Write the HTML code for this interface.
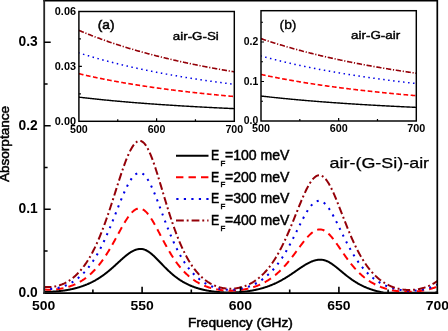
<!DOCTYPE html><html><head><meta charset="utf-8"><style>html,body{margin:0;padding:0;background:#fff;overflow:hidden}svg{display:block}text{font-family:"Liberation Sans",Arial,sans-serif;fill:#000}.r{stroke:#000;stroke-width:0.5px}.r2{stroke:#000;stroke-width:0.5px}.r3{stroke:#000;stroke-width:0.4px}.r5{stroke:#000;stroke-width:0.35px}.r4{stroke:#000;stroke-width:0.25px}.b{font-weight:bold}</style></head><body>
<svg width="448" height="331" viewBox="0 0 448 331">
<rect width="448" height="331" fill="#fff"/>
<defs><clipPath id="cm"><rect x="43.7" y="0" width="393.6" height="292.8"/></clipPath><clipPath id="ca"><rect x="78.9" y="11.5" width="155.4" height="109.8"/></clipPath><clipPath id="cb"><rect x="261.0" y="10.7" width="155.3" height="110.3"/></clipPath></defs>
<g clip-path="url(#cm)" fill="none" stroke-linejoin="round">
<path d="M43.70 291.77L44.19 291.78L44.68 291.79L45.18 291.79L45.67 291.79L46.16 291.79L46.65 291.79L47.14 291.79L47.64 291.78L48.13 291.78L48.62 291.77L49.11 291.76L49.60 291.74L50.10 291.73L50.59 291.71L51.08 291.69L51.57 291.67L52.06 291.65L52.56 291.63L53.05 291.60L53.54 291.58L54.03 291.55L54.52 291.52L55.02 291.48L55.51 291.45L56.00 291.41L56.49 291.37L56.98 291.33L57.48 291.29L57.97 291.24L58.46 291.20L58.95 291.15L59.44 291.10L59.94 291.05L60.43 290.99L60.92 290.94L61.41 290.88L61.90 290.82L62.40 290.75L62.89 290.69L63.38 290.62L63.87 290.55L64.36 290.48L64.86 290.41L65.35 290.33L65.84 290.26L66.33 290.18L66.82 290.09L67.32 290.01L67.81 289.92L68.30 289.83L68.79 289.74L69.28 289.65L69.78 289.55L70.27 289.45L70.76 289.35L71.25 289.25L71.74 289.14L72.24 289.03L72.73 288.92L73.22 288.81L73.71 288.69L74.20 288.57L74.70 288.45L75.19 288.33L75.68 288.20L76.17 288.07L76.66 287.93L77.16 287.80L77.65 287.66L78.14 287.52L78.63 287.37L79.12 287.22L79.62 287.07L80.11 286.91L80.60 286.76L81.09 286.60L81.58 286.43L82.08 286.26L82.57 286.09L83.06 285.92L83.55 285.74L84.04 285.56L84.54 285.37L85.03 285.18L85.52 284.99L86.01 284.79L86.50 284.59L87.00 284.39L87.49 284.18L87.98 283.97L88.47 283.75L88.96 283.53L89.46 283.31L89.95 283.08L90.44 282.85L90.93 282.61L91.42 282.37L91.92 282.13L92.41 281.88L92.90 281.62L93.39 281.36L93.88 281.10L94.38 280.83L94.87 280.56L95.36 280.29L95.85 280.00L96.34 279.72L96.84 279.43L97.33 279.13L97.82 278.83L98.31 278.53L98.80 278.22L99.30 277.91L99.79 277.59L100.28 277.26L100.77 276.93L101.26 276.60L101.76 276.26L102.25 275.92L102.74 275.57L103.23 275.22L103.72 274.86L104.22 274.50L104.71 274.13L105.20 273.76L105.69 273.38L106.18 273.00L106.68 272.61L107.17 272.22L107.66 271.83L108.15 271.43L108.64 271.03L109.14 270.62L109.63 270.21L110.12 269.79L110.61 269.37L111.10 268.95L111.60 268.52L112.09 268.09L112.58 267.66L113.07 267.22L113.56 266.79L114.06 266.35L114.55 265.90L115.04 265.46L115.53 265.01L116.02 264.56L116.52 264.11L117.01 263.66L117.50 263.21L117.99 262.76L118.48 262.30L118.98 261.85L119.47 261.40L119.96 260.95L120.45 260.50L120.94 260.06L121.44 259.61L121.93 259.17L122.42 258.73L122.91 258.30L123.40 257.87L123.90 257.44L124.39 257.02L124.88 256.60L125.37 256.19L125.86 255.79L126.36 255.39L126.85 255.00L127.34 254.62L127.83 254.24L128.32 253.88L128.82 253.52L129.31 253.18L129.80 252.84L130.29 252.52L130.78 252.20L131.28 251.90L131.77 251.61L132.26 251.34L132.75 251.07L133.24 250.83L133.74 250.59L134.23 250.37L134.72 250.16L135.21 249.97L135.70 249.79L136.20 249.63L136.69 249.49L137.18 249.36L137.67 249.25L138.16 249.16L138.66 249.08L139.15 249.02L139.64 248.97L140.13 248.95L140.62 248.94L141.12 248.95L141.61 248.98L142.10 249.04L142.59 249.11L143.08 249.21L143.58 249.33L144.07 249.47L144.56 249.64L145.05 249.82L145.54 250.03L146.04 250.25L146.53 250.49L147.02 250.76L147.51 251.04L148.00 251.34L148.50 251.65L148.99 251.98L149.48 252.33L149.97 252.69L150.46 253.07L150.96 253.46L151.45 253.87L151.94 254.28L152.43 254.71L152.92 255.15L153.42 255.59L153.91 256.05L154.40 256.52L154.89 256.99L155.38 257.47L155.88 257.95L156.37 258.45L156.86 258.94L157.35 259.44L157.84 259.95L158.34 260.46L158.83 260.97L159.32 261.48L159.81 261.99L160.30 262.51L160.80 263.02L161.29 263.53L161.78 264.05L162.27 264.56L162.76 265.07L163.26 265.57L163.75 266.08L164.24 266.58L164.73 267.08L165.22 267.58L165.72 268.07L166.21 268.56L166.70 269.04L167.19 269.52L167.68 270.00L168.18 270.47L168.67 270.93L169.16 271.39L169.65 271.84L170.14 272.29L170.64 272.73L171.13 273.17L171.62 273.60L172.11 274.03L172.60 274.44L173.10 274.86L173.59 275.26L174.08 275.66L174.57 276.06L175.06 276.44L175.56 276.83L176.05 277.20L176.54 277.57L177.03 277.93L177.52 278.29L178.02 278.64L178.51 278.98L179.00 279.32L179.49 279.65L179.98 279.98L180.48 280.30L180.97 280.61L181.46 280.92L181.95 281.22L182.44 281.52L182.94 281.81L183.43 282.10L183.92 282.38L184.41 282.65L184.90 282.92L185.40 283.18L185.89 283.44L186.38 283.69L186.87 283.94L187.36 284.18L187.86 284.42L188.35 284.65L188.84 284.88L189.33 285.10L189.82 285.32L190.32 285.54L190.81 285.75L191.30 285.95L191.79 286.15L192.28 286.35L192.78 286.54L193.27 286.73L193.76 286.91L194.25 287.09L194.74 287.26L195.24 287.43L195.73 287.60L196.22 287.77L196.71 287.93L197.20 288.08L197.70 288.23L198.19 288.38L198.68 288.53L199.17 288.67L199.66 288.81L200.16 288.95L200.65 289.08L201.14 289.21L201.63 289.33L202.12 289.45L202.62 289.57L203.11 289.69L203.60 289.80L204.09 289.92L204.58 290.02L205.08 290.13L205.57 290.23L206.06 290.33L206.55 290.43L207.04 290.52L207.54 290.61L208.03 290.70L208.52 290.79L209.01 290.87L209.50 290.95L210.00 291.03L210.49 291.11L210.98 291.18L211.47 291.25L211.96 291.32L212.46 291.39L212.95 291.46L213.44 291.52L213.93 291.58L214.42 291.64L214.92 291.69L215.41 291.75L215.90 291.80L216.39 291.85L216.88 291.90L217.38 291.95L217.87 291.99L218.36 292.03L218.85 292.07L219.34 292.11L219.84 292.14L220.33 292.18L220.82 292.21L221.31 292.24L221.80 292.27L222.30 292.30L222.79 292.32L223.28 292.34L223.77 292.37L224.26 292.38L224.76 292.40L225.25 292.42L225.74 292.43L226.23 292.44L226.72 292.45L227.22 292.46L227.71 292.47L228.20 292.47L228.69 292.48L229.18 292.48L229.68 292.48L230.17 292.48L230.66 292.47L231.15 292.47L231.64 292.46L232.14 292.45L232.63 292.44L233.12 292.43L233.61 292.41L234.10 292.40L234.60 292.38L235.09 292.36L235.58 292.34L236.07 292.32L236.56 292.29L237.06 292.27L237.55 292.24L238.04 292.21L238.53 292.18L239.02 292.14L239.52 292.11L240.01 292.07L240.50 292.03L240.99 291.99L241.48 291.95L241.98 291.90L242.47 291.85L242.96 291.81L243.45 291.76L243.94 291.70L244.44 291.65L244.93 291.59L245.42 291.53L245.91 291.47L246.40 291.41L246.90 291.35L247.39 291.28L247.88 291.21L248.37 291.14L248.86 291.07L249.36 290.99L249.85 290.92L250.34 290.84L250.83 290.76L251.32 290.67L251.82 290.59L252.31 290.50L252.80 290.41L253.29 290.32L253.78 290.22L254.28 290.13L254.77 290.03L255.26 289.92L255.75 289.82L256.24 289.71L256.74 289.60L257.23 289.49L257.72 289.38L258.21 289.26L258.70 289.14L259.20 289.02L259.69 288.89L260.18 288.77L260.67 288.63L261.16 288.50L261.66 288.37L262.15 288.23L262.64 288.09L263.13 287.94L263.62 287.79L264.12 287.64L264.61 287.49L265.10 287.33L265.59 287.17L266.08 287.01L266.58 286.84L267.07 286.68L267.56 286.50L268.05 286.33L268.54 286.15L269.04 285.97L269.53 285.78L270.02 285.60L270.51 285.40L271.00 285.21L271.50 285.01L271.99 284.81L272.48 284.60L272.97 284.39L273.46 284.18L273.96 283.97L274.45 283.75L274.94 283.52L275.43 283.30L275.92 283.07L276.42 282.84L276.91 282.60L277.40 282.36L277.89 282.11L278.38 281.87L278.88 281.61L279.37 281.36L279.86 281.10L280.35 280.84L280.84 280.57L281.34 280.30L281.83 280.03L282.32 279.75L282.81 279.47L283.30 279.19L283.80 278.90L284.29 278.62L284.78 278.32L285.27 278.03L285.76 277.73L286.26 277.42L286.75 277.12L287.24 276.81L287.73 276.50L288.22 276.18L288.72 275.87L289.21 275.55L289.70 275.23L290.19 274.90L290.68 274.57L291.18 274.25L291.67 273.92L292.16 273.58L292.65 273.25L293.14 272.91L293.64 272.58L294.13 272.24L294.62 271.90L295.11 271.56L295.60 271.22L296.10 270.88L296.59 270.54L297.08 270.20L297.57 269.86L298.06 269.52L298.56 269.18L299.05 268.84L299.54 268.51L300.03 268.17L300.52 267.84L301.02 267.51L301.51 267.18L302.00 266.86L302.49 266.54L302.98 266.22L303.48 265.90L303.97 265.59L304.46 265.29L304.95 264.99L305.44 264.69L305.94 264.40L306.43 264.12L306.92 263.84L307.41 263.57L307.90 263.30L308.40 263.04L308.89 262.79L309.38 262.55L309.87 262.31L310.36 262.08L310.86 261.87L311.35 261.66L311.84 261.46L312.33 261.27L312.82 261.08L313.32 260.91L313.81 260.75L314.30 260.60L314.79 260.46L315.28 260.34L315.78 260.22L316.27 260.11L316.76 260.02L317.25 259.93L317.74 259.86L318.24 259.80L318.73 259.76L319.22 259.72L319.71 259.70L320.20 259.69L320.70 259.69L321.19 259.71L321.68 259.74L322.17 259.80L322.66 259.87L323.16 259.95L323.65 260.06L324.14 260.18L324.63 260.31L325.12 260.46L325.62 260.63L326.11 260.81L326.60 261.01L327.09 261.22L327.58 261.45L328.08 261.69L328.57 261.94L329.06 262.20L329.55 262.48L330.04 262.77L330.54 263.07L331.03 263.38L331.52 263.70L332.01 264.03L332.50 264.37L333.00 264.72L333.49 265.07L333.98 265.44L334.47 265.81L334.96 266.18L335.46 266.56L335.95 266.95L336.44 267.34L336.93 267.73L337.42 268.13L337.92 268.53L338.41 268.94L338.90 269.34L339.39 269.75L339.88 270.16L340.38 270.57L340.87 270.98L341.36 271.39L341.85 271.80L342.34 272.21L342.84 272.61L343.33 273.02L343.82 273.43L344.31 273.83L344.80 274.23L345.30 274.63L345.79 275.02L346.28 275.41L346.77 275.80L347.26 276.19L347.76 276.57L348.25 276.94L348.74 277.32L349.23 277.69L349.72 278.05L350.22 278.42L350.71 278.77L351.20 279.12L351.69 279.47L352.18 279.82L352.68 280.15L353.17 280.49L353.66 280.82L354.15 281.14L354.64 281.46L355.14 281.77L355.63 282.08L356.12 282.39L356.61 282.69L357.10 282.98L357.60 283.27L358.09 283.55L358.58 283.83L359.07 284.11L359.56 284.38L360.06 284.64L360.55 284.90L361.04 285.16L361.53 285.41L362.02 285.65L362.52 285.89L363.01 286.13L363.50 286.36L363.99 286.59L364.48 286.81L364.98 287.03L365.47 287.24L365.96 287.45L366.45 287.66L366.94 287.86L367.44 288.06L367.93 288.25L368.42 288.44L368.91 288.63L369.40 288.81L369.90 288.99L370.39 289.16L370.88 289.33L371.37 289.50L371.86 289.66L372.36 289.82L372.85 289.97L373.34 290.12L373.83 290.27L374.32 290.42L374.82 290.56L375.31 290.70L375.80 290.84L376.29 290.97L376.78 291.10L377.28 291.23L377.77 291.35L378.26 291.47L378.75 291.59L379.24 291.70L379.74 291.81L380.23 291.92L380.72 292.03L381.21 292.14L381.70 292.24L382.20 292.34L382.69 292.43L383.18 292.53L383.67 292.62L384.16 292.71L384.66 292.79L385.15 292.80L385.64 292.80L386.13 292.80L386.62 292.80L387.12 292.80L387.61 292.80L388.10 292.80L388.59 292.80L389.08 292.80L389.58 292.80L390.07 292.80L390.56 292.80L391.05 292.80L391.54 292.80L392.04 292.80L392.53 292.80L393.02 292.80L393.51 292.80L394.00 292.80L394.50 292.80L394.99 292.80L395.48 292.80L395.97 292.80L396.46 292.80L396.96 292.80L397.45 292.80L397.94 292.80L398.43 292.80L398.92 292.80L399.42 292.80L399.91 292.80L400.40 292.80L400.89 292.80L401.38 292.80L401.88 292.80L402.37 292.80L402.86 292.80L403.35 292.80L403.84 292.80L404.34 292.80L404.83 292.80L405.32 292.80L405.81 292.80L406.30 292.80L406.80 292.80L407.29 292.80L407.78 292.80L408.27 292.80L408.76 292.80L409.26 292.80L409.75 292.80L410.24 292.80L410.73 292.80L411.22 292.80L411.72 292.80L412.21 292.80L412.70 292.80L413.19 292.80L413.68 292.80L414.18 292.80L414.67 292.80L415.16 292.80L415.65 292.80L416.14 292.80L416.64 292.80L417.13 292.80L417.62 292.80L418.11 292.80L418.60 292.80L419.10 292.80L419.59 292.80L420.08 292.80L420.57 292.80L421.06 292.80L421.56 292.80L422.05 292.80L422.54 292.80L423.03 292.80L423.52 292.80L424.02 292.80L424.51 292.80L425.00 292.80L425.49 292.80L425.98 292.80L426.48 292.80L426.97 292.80L427.46 292.80L427.95 292.80L428.44 292.80L428.94 292.80L429.43 292.80L429.92 292.80L430.41 292.80L430.90 292.80L431.40 292.80L431.89 292.80L432.38 292.80L432.87 292.80L433.36 292.80L433.86 292.80L434.35 292.74L434.84 292.66L435.33 292.58L435.82 292.49L436.32 292.40L436.81 292.31L437.30 292.22" stroke="#000" stroke-width="2.00" />
<path d="M43.70 289.45L44.19 289.49L44.68 289.53L45.18 289.56L45.67 289.59L46.16 289.62L46.65 289.64L47.14 289.66L47.64 289.67L48.13 289.68L48.62 289.69L49.11 289.69L49.60 289.69L50.10 289.69L50.59 289.68L51.08 289.67L51.57 289.66L52.06 289.64L52.56 289.62L53.05 289.59L53.54 289.56L54.03 289.53L54.52 289.49L55.02 289.45L55.51 289.41L56.00 289.36L56.49 289.31L56.98 289.26L57.48 289.20L57.97 289.13L58.46 289.07L58.95 289.00L59.44 288.92L59.94 288.84L60.43 288.76L60.92 288.68L61.41 288.59L61.90 288.49L62.40 288.39L62.89 288.29L63.38 288.18L63.87 288.07L64.36 287.96L64.86 287.84L65.35 287.72L65.84 287.59L66.33 287.46L66.82 287.32L67.32 287.18L67.81 287.03L68.30 286.88L68.79 286.73L69.28 286.57L69.78 286.40L70.27 286.23L70.76 286.06L71.25 285.88L71.74 285.69L72.24 285.50L72.73 285.31L73.22 285.11L73.71 284.90L74.20 284.69L74.70 284.48L75.19 284.26L75.68 284.03L76.17 283.79L76.66 283.56L77.16 283.31L77.65 283.06L78.14 282.80L78.63 282.54L79.12 282.27L79.62 281.99L80.11 281.71L80.60 281.42L81.09 281.13L81.58 280.83L82.08 280.52L82.57 280.20L83.06 279.88L83.55 279.55L84.04 279.21L84.54 278.87L85.03 278.51L85.52 278.16L86.01 277.79L86.50 277.41L87.00 277.03L87.49 276.64L87.98 276.24L88.47 275.83L88.96 275.42L89.46 274.99L89.95 274.56L90.44 274.12L90.93 273.67L91.42 273.21L91.92 272.74L92.41 272.26L92.90 271.78L93.39 271.28L93.88 270.77L94.38 270.26L94.87 269.74L95.36 269.20L95.85 268.66L96.34 268.10L96.84 267.54L97.33 266.97L97.82 266.38L98.31 265.79L98.80 265.18L99.30 264.57L99.79 263.94L100.28 263.31L100.77 262.66L101.26 262.01L101.76 261.34L102.25 260.66L102.74 259.98L103.23 259.28L103.72 258.57L104.22 257.85L104.71 257.13L105.20 256.39L105.69 255.64L106.18 254.88L106.68 254.11L107.17 253.33L107.66 252.55L108.15 251.75L108.64 250.95L109.14 250.13L109.63 249.31L110.12 248.48L110.61 247.64L111.10 246.79L111.60 245.94L112.09 245.08L112.58 244.21L113.07 243.33L113.56 242.45L114.06 241.57L114.55 240.68L115.04 239.78L115.53 238.89L116.02 237.99L116.52 237.08L117.01 236.18L117.50 235.27L117.99 234.37L118.48 233.46L118.98 232.56L119.47 231.66L119.96 230.76L120.45 229.86L120.94 228.97L121.44 228.08L121.93 227.20L122.42 226.33L122.91 225.47L123.40 224.62L123.90 223.77L124.39 222.94L124.88 222.12L125.37 221.32L125.86 220.53L126.36 219.75L126.85 219.00L127.34 218.26L127.83 217.54L128.32 216.84L128.82 216.16L129.31 215.50L129.80 214.87L130.29 214.26L130.78 213.68L131.28 213.12L131.77 212.59L132.26 212.09L132.75 211.62L133.24 211.18L133.74 210.77L134.23 210.39L134.72 210.04L135.21 209.73L135.70 209.45L136.20 209.20L136.69 208.99L137.18 208.81L137.67 208.67L138.16 208.56L138.66 208.49L139.15 208.46L139.64 208.46L140.13 208.50L140.62 208.57L141.12 208.69L141.61 208.85L142.10 209.04L142.59 209.27L143.08 209.53L143.58 209.84L144.07 210.18L144.56 210.55L145.05 210.96L145.54 211.40L146.04 211.88L146.53 212.38L147.02 212.92L147.51 213.49L148.00 214.09L148.50 214.71L148.99 215.36L149.48 216.04L149.97 216.74L150.46 217.46L150.96 218.21L151.45 218.97L151.94 219.76L152.43 220.56L152.92 221.38L153.42 222.22L153.91 223.07L154.40 223.93L154.89 224.81L155.38 225.70L155.88 226.60L156.37 227.50L156.86 228.42L157.35 229.34L157.84 230.26L158.34 231.19L158.83 232.13L159.32 233.07L159.81 234.00L160.30 234.94L160.80 235.88L161.29 236.82L161.78 237.76L162.27 238.69L162.76 239.62L163.26 240.55L163.75 241.47L164.24 242.39L164.73 243.30L165.22 244.21L165.72 245.11L166.21 246.00L166.70 246.89L167.19 247.76L167.68 248.63L168.18 249.49L168.67 250.34L169.16 251.18L169.65 252.01L170.14 252.84L170.64 253.65L171.13 254.45L171.62 255.24L172.11 256.02L172.60 256.79L173.10 257.55L173.59 258.30L174.08 259.04L174.57 259.76L175.06 260.48L175.56 261.18L176.05 261.87L176.54 262.56L177.03 263.23L177.52 263.89L178.02 264.53L178.51 265.17L179.00 265.80L179.49 266.41L179.98 267.02L180.48 267.61L180.97 268.19L181.46 268.77L181.95 269.33L182.44 269.88L182.94 270.42L183.43 270.95L183.92 271.47L184.41 271.98L184.90 272.49L185.40 272.98L185.89 273.46L186.38 273.93L186.87 274.39L187.36 274.85L187.86 275.29L188.35 275.73L188.84 276.15L189.33 276.57L189.82 276.98L190.32 277.38L190.81 277.77L191.30 278.15L191.79 278.53L192.28 278.90L192.78 279.26L193.27 279.61L193.76 279.95L194.25 280.29L194.74 280.62L195.24 280.94L195.73 281.26L196.22 281.56L196.71 281.87L197.20 282.16L197.70 282.45L198.19 282.73L198.68 283.00L199.17 283.27L199.66 283.53L200.16 283.79L200.65 284.04L201.14 284.28L201.63 284.52L202.12 284.75L202.62 284.98L203.11 285.20L203.60 285.41L204.09 285.62L204.58 285.83L205.08 286.03L205.57 286.22L206.06 286.41L206.55 286.59L207.04 286.77L207.54 286.95L208.03 287.12L208.52 287.28L209.01 287.44L209.50 287.60L210.00 287.75L210.49 287.89L210.98 288.04L211.47 288.17L211.96 288.31L212.46 288.44L212.95 288.56L213.44 288.68L213.93 288.80L214.42 288.91L214.92 289.02L215.41 289.13L215.90 289.23L216.39 289.33L216.88 289.42L217.38 289.51L217.87 289.60L218.36 289.68L218.85 289.76L219.34 289.83L219.84 289.91L220.33 289.97L220.82 290.04L221.31 290.10L221.80 290.16L222.30 290.21L222.79 290.27L223.28 290.31L223.77 290.36L224.26 290.40L224.76 290.44L225.25 290.47L225.74 290.51L226.23 290.53L226.72 290.56L227.22 290.58L227.71 290.60L228.20 290.62L228.69 290.63L229.18 290.64L229.68 290.65L230.17 290.65L230.66 290.65L231.15 290.65L231.64 290.64L232.14 290.63L232.63 290.62L233.12 290.61L233.61 290.59L234.10 290.57L234.60 290.54L235.09 290.51L235.58 290.48L236.07 290.45L236.56 290.41L237.06 290.37L237.55 290.33L238.04 290.28L238.53 290.23L239.02 290.18L239.52 290.12L240.01 290.07L240.50 290.00L240.99 289.94L241.48 289.87L241.98 289.80L242.47 289.72L242.96 289.64L243.45 289.56L243.94 289.48L244.44 289.39L244.93 289.29L245.42 289.20L245.91 289.10L246.40 289.00L246.90 288.89L247.39 288.78L247.88 288.67L248.37 288.55L248.86 288.43L249.36 288.30L249.85 288.17L250.34 288.04L250.83 287.91L251.32 287.77L251.82 287.62L252.31 287.47L252.80 287.32L253.29 287.17L253.78 287.01L254.28 286.84L254.77 286.67L255.26 286.50L255.75 286.32L256.24 286.14L256.74 285.96L257.23 285.77L257.72 285.57L258.21 285.37L258.70 285.17L259.20 284.96L259.69 284.74L260.18 284.52L260.67 284.30L261.16 284.07L261.66 283.84L262.15 283.60L262.64 283.36L263.13 283.11L263.62 282.85L264.12 282.59L264.61 282.33L265.10 282.06L265.59 281.78L266.08 281.50L266.58 281.21L267.07 280.91L267.56 280.61L268.05 280.31L268.54 280.00L269.04 279.68L269.53 279.35L270.02 279.02L270.51 278.69L271.00 278.34L271.50 277.99L271.99 277.64L272.48 277.28L272.97 276.91L273.46 276.53L273.96 276.15L274.45 275.76L274.94 275.36L275.43 274.96L275.92 274.54L276.42 274.13L276.91 273.70L277.40 273.27L277.89 272.83L278.38 272.38L278.88 271.93L279.37 271.47L279.86 271.00L280.35 270.52L280.84 270.04L281.34 269.55L281.83 269.05L282.32 268.54L282.81 268.03L283.30 267.51L283.80 266.98L284.29 266.45L284.78 265.91L285.27 265.36L285.76 264.80L286.26 264.24L286.75 263.67L287.24 263.09L287.73 262.51L288.22 261.92L288.72 261.32L289.21 260.72L289.70 260.11L290.19 259.49L290.68 258.87L291.18 258.25L291.67 257.62L292.16 256.98L292.65 256.34L293.14 255.70L293.64 255.05L294.13 254.40L294.62 253.74L295.11 253.08L295.60 252.42L296.10 251.76L296.59 251.09L297.08 250.42L297.57 249.76L298.06 249.09L298.56 248.42L299.05 247.75L299.54 247.09L300.03 246.43L300.52 245.77L301.02 245.11L301.51 244.45L302.00 243.80L302.49 243.16L302.98 242.52L303.48 241.89L303.97 241.26L304.46 240.65L304.95 240.04L305.44 239.44L305.94 238.85L306.43 238.28L306.92 237.71L307.41 237.16L307.90 236.62L308.40 236.09L308.89 235.58L309.38 235.09L309.87 234.61L310.36 234.15L310.86 233.70L311.35 233.28L311.84 232.87L312.33 232.48L312.82 232.12L313.32 231.77L313.81 231.45L314.30 231.15L314.79 230.87L315.28 230.62L315.78 230.39L316.27 230.18L316.76 230.00L317.25 229.84L317.74 229.71L318.24 229.61L318.73 229.53L319.22 229.47L319.71 229.44L320.20 229.44L320.70 229.47L321.19 229.52L321.68 229.61L322.17 229.73L322.66 229.87L323.16 230.05L323.65 230.25L324.14 230.48L324.63 230.74L325.12 231.03L325.62 231.35L326.11 231.69L326.60 232.05L327.09 232.44L327.58 232.85L328.08 233.29L328.57 233.75L329.06 234.23L329.55 234.73L330.04 235.25L330.54 235.79L331.03 236.35L331.52 236.92L332.01 237.51L332.50 238.11L333.00 238.73L333.49 239.36L333.98 240.00L334.47 240.66L334.96 241.32L335.46 242.00L335.95 242.68L336.44 243.37L336.93 244.06L337.42 244.76L337.92 245.47L338.41 246.18L338.90 246.89L339.39 247.60L339.88 248.32L340.38 249.04L340.87 249.75L341.36 250.47L341.85 251.19L342.34 251.90L342.84 252.62L343.33 253.33L343.82 254.04L344.31 254.74L344.80 255.44L345.30 256.13L345.79 256.82L346.28 257.51L346.77 258.19L347.26 258.86L347.76 259.53L348.25 260.19L348.74 260.84L349.23 261.49L349.72 262.13L350.22 262.76L350.71 263.39L351.20 264.01L351.69 264.61L352.18 265.22L352.68 265.81L353.17 266.39L353.66 266.97L354.15 267.54L354.64 268.10L355.14 268.65L355.63 269.19L356.12 269.73L356.61 270.25L357.10 270.77L357.60 271.28L358.09 271.78L358.58 272.27L359.07 272.76L359.56 273.23L360.06 273.70L360.55 274.16L361.04 274.61L361.53 275.06L362.02 275.49L362.52 275.92L363.01 276.34L363.50 276.75L363.99 277.15L364.48 277.55L364.98 277.94L365.47 278.32L365.96 278.69L366.45 279.06L366.94 279.42L367.44 279.77L367.93 280.11L368.42 280.45L368.91 280.78L369.40 281.11L369.90 281.42L370.39 281.74L370.88 282.04L371.37 282.34L371.86 282.63L372.36 282.92L372.85 283.20L373.34 283.47L373.83 283.74L374.32 284.00L374.82 284.26L375.31 284.51L375.80 284.75L376.29 284.99L376.78 285.23L377.28 285.46L377.77 285.68L378.26 285.90L378.75 286.11L379.24 286.32L379.74 286.52L380.23 286.72L380.72 286.92L381.21 287.10L381.70 287.29L382.20 287.47L382.69 287.64L383.18 287.82L383.67 287.98L384.16 288.15L384.66 288.30L385.15 288.46L385.64 288.61L386.13 288.75L386.62 288.90L387.12 289.03L387.61 289.17L388.10 289.30L388.59 289.42L389.08 289.55L389.58 289.67L390.07 289.78L390.56 289.89L391.05 290.00L391.54 290.11L392.04 290.21L392.53 290.30L393.02 290.40L393.51 290.49L394.00 290.58L394.50 290.66L394.99 290.74L395.48 290.82L395.97 290.90L396.46 290.97L396.96 291.04L397.45 291.10L397.94 291.16L398.43 291.22L398.92 291.28L399.42 291.33L399.91 291.38L400.40 291.43L400.89 291.47L401.38 291.51L401.88 291.55L402.37 291.59L402.86 291.62L403.35 291.65L403.84 291.68L404.34 291.70L404.83 291.72L405.32 291.74L405.81 291.76L406.30 291.77L406.80 291.78L407.29 291.79L407.78 291.79L408.27 291.80L408.76 291.80L409.26 291.79L409.75 291.79L410.24 291.78L410.73 291.76L411.22 291.75L411.72 291.73L412.21 291.71L412.70 291.69L413.19 291.66L413.68 291.64L414.18 291.60L414.67 291.57L415.16 291.53L415.65 291.49L416.14 291.45L416.64 291.41L417.13 291.36L417.62 291.31L418.11 291.25L418.60 291.20L419.10 291.14L419.59 291.07L420.08 291.01L420.57 290.94L421.06 290.87L421.56 290.79L422.05 290.71L422.54 290.63L423.03 290.55L423.52 290.46L424.02 290.37L424.51 290.28L425.00 290.18L425.49 290.08L425.98 289.98L426.48 289.87L426.97 289.76L427.46 289.65L427.95 289.53L428.44 289.41L428.94 289.28L429.43 289.16L429.92 289.03L430.41 288.89L430.90 288.75L431.40 288.61L431.89 288.47L432.38 288.32L432.87 288.16L433.36 288.00L433.86 287.84L434.35 287.68L434.84 287.51L435.33 287.33L435.82 287.16L436.32 286.97L436.81 286.79L437.30 286.60" stroke="#ff0000" stroke-width="2.00" stroke-dasharray="7.4 5.1"/>
<path d="M43.70 288.75L44.19 288.80L44.68 288.84L45.18 288.88L45.67 288.91L46.16 288.93L46.65 288.96L47.14 288.97L47.64 288.98L48.13 288.99L48.62 288.98L49.11 288.98L49.60 288.97L50.10 288.95L50.59 288.93L51.08 288.90L51.57 288.87L52.06 288.83L52.56 288.78L53.05 288.74L53.54 288.68L54.03 288.62L54.52 288.56L55.02 288.49L55.51 288.41L56.00 288.33L56.49 288.24L56.98 288.15L57.48 288.05L57.97 287.94L58.46 287.83L58.95 287.72L59.44 287.60L59.94 287.47L60.43 287.34L60.92 287.20L61.41 287.05L61.90 286.90L62.40 286.75L62.89 286.58L63.38 286.42L63.87 286.24L64.36 286.06L64.86 285.87L65.35 285.68L65.84 285.48L66.33 285.27L66.82 285.05L67.32 284.83L67.81 284.61L68.30 284.37L68.79 284.13L69.28 283.88L69.78 283.62L70.27 283.36L70.76 283.09L71.25 282.81L71.74 282.53L72.24 282.23L72.73 281.93L73.22 281.62L73.71 281.31L74.20 280.98L74.70 280.65L75.19 280.31L75.68 279.96L76.17 279.60L76.66 279.23L77.16 278.86L77.65 278.47L78.14 278.08L78.63 277.67L79.12 277.26L79.62 276.84L80.11 276.41L80.60 275.96L81.09 275.51L81.58 275.05L82.08 274.58L82.57 274.10L83.06 273.61L83.55 273.10L84.04 272.59L84.54 272.06L85.03 271.53L85.52 270.98L86.01 270.42L86.50 269.85L87.00 269.27L87.49 268.68L87.98 268.07L88.47 267.46L88.96 266.83L89.46 266.19L89.95 265.53L90.44 264.87L90.93 264.19L91.42 263.49L91.92 262.79L92.41 262.07L92.90 261.34L93.39 260.60L93.88 259.84L94.38 259.07L94.87 258.28L95.36 257.48L95.85 256.67L96.34 255.85L96.84 255.01L97.33 254.15L97.82 253.28L98.31 252.40L98.80 251.51L99.30 250.60L99.79 249.67L100.28 248.74L100.77 247.78L101.26 246.82L101.76 245.84L102.25 244.85L102.74 243.84L103.23 242.82L103.72 241.79L104.22 240.74L104.71 239.68L105.20 238.61L105.69 237.52L106.18 236.43L106.68 235.32L107.17 234.20L107.66 233.07L108.15 231.92L108.64 230.77L109.14 229.60L109.63 228.43L110.12 227.24L110.61 226.05L111.10 224.85L111.60 223.64L112.09 222.43L112.58 221.20L113.07 219.97L113.56 218.74L114.06 217.50L114.55 216.26L115.04 215.01L115.53 213.76L116.02 212.52L116.52 211.27L117.01 210.02L117.50 208.77L117.99 207.52L118.48 206.28L118.98 205.04L119.47 203.81L119.96 202.59L120.45 201.37L120.94 200.16L121.44 198.96L121.93 197.77L122.42 196.60L122.91 195.44L123.40 194.29L123.90 193.16L124.39 192.05L124.88 190.96L125.37 189.88L125.86 188.83L126.36 187.80L126.85 186.80L127.34 185.82L127.83 184.87L128.32 183.94L128.82 183.04L129.31 182.18L129.80 181.34L130.29 180.54L130.78 179.77L131.28 179.04L131.77 178.34L132.26 177.68L132.75 177.06L133.24 176.47L133.74 175.93L134.23 175.43L134.72 174.97L135.21 174.55L135.70 174.17L136.20 173.83L136.69 173.55L137.18 173.30L137.67 173.10L138.16 172.94L138.66 172.83L139.15 172.77L139.64 172.75L140.13 172.78L140.62 172.86L141.12 172.99L141.61 173.18L142.10 173.41L142.59 173.70L143.08 174.03L143.58 174.41L144.07 174.85L144.56 175.33L145.05 175.85L145.54 176.42L146.04 177.04L146.53 177.70L147.02 178.41L147.51 179.15L148.00 179.94L148.50 180.76L148.99 181.62L149.48 182.52L149.97 183.45L150.46 184.42L150.96 185.42L151.45 186.44L151.94 187.50L152.43 188.59L152.92 189.70L153.42 190.83L153.91 191.99L154.40 193.16L154.89 194.36L155.38 195.58L155.88 196.81L156.37 198.06L156.86 199.32L157.35 200.59L157.84 201.87L158.34 203.16L158.83 204.47L159.32 205.77L159.81 207.08L160.30 208.40L160.80 209.72L161.29 211.04L161.78 212.36L162.27 213.68L162.76 215.00L163.26 216.32L163.75 217.63L164.24 218.94L164.73 220.24L165.22 221.54L165.72 222.83L166.21 224.11L166.70 225.38L167.19 226.64L167.68 227.90L168.18 229.14L168.67 230.37L169.16 231.59L169.65 232.80L170.14 233.99L170.64 235.18L171.13 236.35L171.62 237.50L172.11 238.64L172.60 239.77L173.10 240.88L173.59 241.98L174.08 243.07L174.57 244.13L175.06 245.19L175.56 246.23L176.05 247.25L176.54 248.25L177.03 249.25L177.52 250.22L178.02 251.18L178.51 252.12L179.00 253.05L179.49 253.97L179.98 254.86L180.48 255.75L180.97 256.61L181.46 257.46L181.95 258.30L182.44 259.12L182.94 259.92L183.43 260.71L183.92 261.49L184.41 262.25L184.90 263.00L185.40 263.73L185.89 264.45L186.38 265.15L186.87 265.84L187.36 266.51L187.86 267.18L188.35 267.82L188.84 268.46L189.33 269.08L189.82 269.69L190.32 270.29L190.81 270.87L191.30 271.44L191.79 272.00L192.28 272.55L192.78 273.08L193.27 273.60L193.76 274.12L194.25 274.62L194.74 275.11L195.24 275.58L195.73 276.05L196.22 276.51L196.71 276.95L197.20 277.39L197.70 277.82L198.19 278.23L198.68 278.64L199.17 279.03L199.66 279.42L200.16 279.80L200.65 280.17L201.14 280.52L201.63 280.88L202.12 281.22L202.62 281.55L203.11 281.87L203.60 282.19L204.09 282.50L204.58 282.80L205.08 283.09L205.57 283.37L206.06 283.65L206.55 283.92L207.04 284.18L207.54 284.44L208.03 284.68L208.52 284.92L209.01 285.16L209.50 285.38L210.00 285.60L210.49 285.82L210.98 286.02L211.47 286.22L211.96 286.42L212.46 286.60L212.95 286.78L213.44 286.96L213.93 287.13L214.42 287.29L214.92 287.45L215.41 287.60L215.90 287.75L216.39 287.89L216.88 288.02L217.38 288.15L217.87 288.28L218.36 288.39L218.85 288.51L219.34 288.62L219.84 288.72L220.33 288.82L220.82 288.91L221.31 289.00L221.80 289.08L222.30 289.16L222.79 289.23L223.28 289.30L223.77 289.36L224.26 289.42L224.76 289.48L225.25 289.53L225.74 289.57L226.23 289.61L226.72 289.65L227.22 289.68L227.71 289.70L228.20 289.72L228.69 289.74L229.18 289.75L229.68 289.76L230.17 289.77L230.66 289.77L231.15 289.76L231.64 289.75L232.14 289.74L232.63 289.72L233.12 289.70L233.61 289.67L234.10 289.64L234.60 289.60L235.09 289.56L235.58 289.52L236.07 289.47L236.56 289.41L237.06 289.36L237.55 289.29L238.04 289.23L238.53 289.15L239.02 289.08L239.52 289.00L240.01 288.91L240.50 288.82L240.99 288.73L241.48 288.63L241.98 288.52L242.47 288.42L242.96 288.30L243.45 288.18L243.94 288.06L244.44 287.93L244.93 287.80L245.42 287.66L245.91 287.52L246.40 287.37L246.90 287.22L247.39 287.06L247.88 286.90L248.37 286.73L248.86 286.56L249.36 286.38L249.85 286.19L250.34 286.00L250.83 285.81L251.32 285.61L251.82 285.40L252.31 285.19L252.80 284.97L253.29 284.74L253.78 284.51L254.28 284.28L254.77 284.03L255.26 283.79L255.75 283.53L256.24 283.27L256.74 283.00L257.23 282.73L257.72 282.44L258.21 282.16L258.70 281.86L259.20 281.56L259.69 281.25L260.18 280.93L260.67 280.61L261.16 280.28L261.66 279.94L262.15 279.59L262.64 279.24L263.13 278.88L263.62 278.51L264.12 278.13L264.61 277.75L265.10 277.35L265.59 276.95L266.08 276.54L266.58 276.12L267.07 275.69L267.56 275.26L268.05 274.81L268.54 274.35L269.04 273.89L269.53 273.42L270.02 272.93L270.51 272.44L271.00 271.94L271.50 271.43L271.99 270.90L272.48 270.37L272.97 269.83L273.46 269.28L273.96 268.71L274.45 268.14L274.94 267.56L275.43 266.96L275.92 266.36L276.42 265.74L276.91 265.11L277.40 264.48L277.89 263.83L278.38 263.17L278.88 262.50L279.37 261.81L279.86 261.12L280.35 260.41L280.84 259.70L281.34 258.97L281.83 258.23L282.32 257.48L282.81 256.72L283.30 255.94L283.80 255.16L284.29 254.36L284.78 253.56L285.27 252.74L285.76 251.91L286.26 251.07L286.75 250.22L287.24 249.36L287.73 248.49L288.22 247.61L288.72 246.72L289.21 245.82L289.70 244.91L290.19 243.99L290.68 243.06L291.18 242.13L291.67 241.19L292.16 240.24L292.65 239.28L293.14 238.31L293.64 237.35L294.13 236.37L294.62 235.39L295.11 234.41L295.60 233.42L296.10 232.43L296.59 231.44L297.08 230.44L297.57 229.45L298.06 228.45L298.56 227.46L299.05 226.47L299.54 225.48L300.03 224.50L300.52 223.52L301.02 222.54L301.51 221.58L302.00 220.62L302.49 219.67L302.98 218.73L303.48 217.80L303.97 216.88L304.46 215.98L304.95 215.09L305.44 214.22L305.94 213.36L306.43 212.53L306.92 211.71L307.41 210.91L307.90 210.14L308.40 209.39L308.89 208.66L309.38 207.96L309.87 207.28L310.36 206.64L310.86 206.02L311.35 205.43L311.84 204.87L312.33 204.35L312.82 203.86L313.32 203.40L313.81 202.97L314.30 202.59L314.79 202.23L315.28 201.92L315.78 201.64L316.27 201.40L316.76 201.20L317.25 201.04L317.74 200.91L318.24 200.83L318.73 200.78L319.22 200.78L319.71 200.81L320.20 200.89L320.70 201.01L321.19 201.17L321.68 201.36L322.17 201.60L322.66 201.88L323.16 202.19L323.65 202.55L324.14 202.94L324.63 203.37L325.12 203.83L325.62 204.33L326.11 204.86L326.60 205.43L327.09 206.02L327.58 206.65L328.08 207.31L328.57 208.00L329.06 208.71L329.55 209.45L330.04 210.22L330.54 211.01L331.03 211.82L331.52 212.65L332.01 213.51L332.50 214.38L333.00 215.27L333.49 216.17L333.98 217.09L334.47 218.03L334.96 218.97L335.46 219.93L335.95 220.90L336.44 221.87L336.93 222.86L337.42 223.85L337.92 224.85L338.41 225.85L338.90 226.85L339.39 227.86L339.88 228.87L340.38 229.87L340.87 230.88L341.36 231.89L341.85 232.90L342.34 233.90L342.84 234.90L343.33 235.90L343.82 236.89L344.31 237.87L344.80 238.85L345.30 239.83L345.79 240.79L346.28 241.75L346.77 242.70L347.26 243.64L347.76 244.58L348.25 245.50L348.74 246.42L349.23 247.32L349.72 248.22L350.22 249.11L350.71 249.98L351.20 250.84L351.69 251.70L352.18 252.54L352.68 253.37L353.17 254.19L353.66 255.00L354.15 255.80L354.64 256.58L355.14 257.35L355.63 258.12L356.12 258.87L356.61 259.61L357.10 260.33L357.60 261.05L358.09 261.75L358.58 262.44L359.07 263.12L359.56 263.79L360.06 264.45L360.55 265.10L361.04 265.73L361.53 266.36L362.02 266.97L362.52 267.57L363.01 268.16L363.50 268.74L363.99 269.31L364.48 269.87L364.98 270.42L365.47 270.96L365.96 271.48L366.45 272.00L366.94 272.51L367.44 273.01L367.93 273.50L368.42 273.97L368.91 274.44L369.40 274.90L369.90 275.35L370.39 275.80L370.88 276.23L371.37 276.65L371.86 277.07L372.36 277.47L372.85 277.87L373.34 278.26L373.83 278.64L374.32 279.02L374.82 279.38L375.31 279.74L375.80 280.09L376.29 280.43L376.78 280.77L377.28 281.09L377.77 281.42L378.26 281.73L378.75 282.03L379.24 282.33L379.74 282.63L380.23 282.91L380.72 283.19L381.21 283.47L381.70 283.73L382.20 283.99L382.69 284.25L383.18 284.49L383.67 284.74L384.16 284.97L384.66 285.20L385.15 285.43L385.64 285.65L386.13 285.86L386.62 286.07L387.12 286.27L387.61 286.47L388.10 286.66L388.59 286.84L389.08 287.02L389.58 287.20L390.07 287.37L390.56 287.54L391.05 287.70L391.54 287.86L392.04 288.01L392.53 288.16L393.02 288.30L393.51 288.44L394.00 288.57L394.50 288.70L394.99 288.82L395.48 288.95L395.97 289.06L396.46 289.17L396.96 289.28L397.45 289.38L397.94 289.48L398.43 289.58L398.92 289.67L399.42 289.76L399.91 289.84L400.40 289.92L400.89 289.99L401.38 290.06L401.88 290.13L402.37 290.19L402.86 290.25L403.35 290.31L403.84 290.36L404.34 290.41L404.83 290.45L405.32 290.49L405.81 290.53L406.30 290.56L406.80 290.59L407.29 290.62L407.78 290.64L408.27 290.66L408.76 290.67L409.26 290.69L409.75 290.69L410.24 290.70L410.73 290.70L411.22 290.69L411.72 290.69L412.21 290.67L412.70 290.66L413.19 290.64L413.68 290.62L414.18 290.59L414.67 290.56L415.16 290.53L415.65 290.49L416.14 290.45L416.64 290.41L417.13 290.36L417.62 290.31L418.11 290.25L418.60 290.19L419.10 290.13L419.59 290.06L420.08 289.99L420.57 289.91L421.06 289.83L421.56 289.75L422.05 289.66L422.54 289.57L423.03 289.48L423.52 289.38L424.02 289.27L424.51 289.16L425.00 289.05L425.49 288.93L425.98 288.81L426.48 288.69L426.97 288.56L427.46 288.42L427.95 288.28L428.44 288.14L428.94 287.99L429.43 287.84L429.92 287.68L430.41 287.52L430.90 287.35L431.40 287.18L431.89 287.00L432.38 286.82L432.87 286.63L433.36 286.43L433.86 286.24L434.35 286.03L434.84 285.82L435.33 285.61L435.82 285.39L436.32 285.16L436.81 284.93L437.30 284.69" stroke="#0000e6" stroke-width="2.05" stroke-dasharray="0.01 7.5" stroke-linecap="square"/>
<path d="M43.70 286.76L44.19 286.83L44.68 286.88L45.18 286.93L45.67 286.97L46.16 287.01L46.65 287.04L47.14 287.06L47.64 287.07L48.13 287.08L48.62 287.08L49.11 287.07L49.60 287.06L50.10 287.04L50.59 287.01L51.08 286.98L51.57 286.94L52.06 286.89L52.56 286.83L53.05 286.77L53.54 286.70L54.03 286.63L54.52 286.54L55.02 286.45L55.51 286.36L56.00 286.25L56.49 286.14L56.98 286.02L57.48 285.90L57.97 285.76L58.46 285.62L58.95 285.47L59.44 285.32L59.94 285.16L60.43 284.99L60.92 284.81L61.41 284.62L61.90 284.43L62.40 284.23L62.89 284.02L63.38 283.80L63.87 283.58L64.36 283.34L64.86 283.10L65.35 282.85L65.84 282.59L66.33 282.33L66.82 282.05L67.32 281.77L67.81 281.48L68.30 281.17L68.79 280.86L69.28 280.54L69.78 280.21L70.27 279.87L70.76 279.53L71.25 279.17L71.74 278.80L72.24 278.42L72.73 278.03L73.22 277.64L73.71 277.23L74.20 276.81L74.70 276.38L75.19 275.94L75.68 275.49L76.17 275.02L76.66 274.55L77.16 274.07L77.65 273.57L78.14 273.06L78.63 272.54L79.12 272.01L79.62 271.46L80.11 270.91L80.60 270.34L81.09 269.75L81.58 269.16L82.08 268.55L82.57 267.93L83.06 267.29L83.55 266.64L84.04 265.98L84.54 265.30L85.03 264.61L85.52 263.91L86.01 263.19L86.50 262.45L87.00 261.70L87.49 260.94L87.98 260.16L88.47 259.37L88.96 258.56L89.46 257.73L89.95 256.89L90.44 256.03L90.93 255.16L91.42 254.27L91.92 253.36L92.41 252.44L92.90 251.50L93.39 250.55L93.88 249.57L94.38 248.58L94.87 247.58L95.36 246.55L95.85 245.51L96.34 244.46L96.84 243.38L97.33 242.29L97.82 241.18L98.31 240.05L98.80 238.91L99.30 237.75L99.79 236.57L100.28 235.37L100.77 234.16L101.26 232.93L101.76 231.69L102.25 230.43L102.74 229.15L103.23 227.85L103.72 226.54L104.22 225.22L104.71 223.88L105.20 222.52L105.69 221.15L106.18 219.76L106.68 218.36L107.17 216.95L107.66 215.52L108.15 214.08L108.64 212.63L109.14 211.17L109.63 209.69L110.12 208.21L110.61 206.71L111.10 205.21L111.60 203.70L112.09 202.18L112.58 200.65L113.07 199.12L113.56 197.58L114.06 196.04L114.55 194.49L115.04 192.95L115.53 191.40L116.02 189.85L116.52 188.30L117.01 186.76L117.50 185.21L117.99 183.67L118.48 182.14L118.98 180.61L119.47 179.10L119.96 177.59L120.45 176.09L120.94 174.60L121.44 173.13L121.93 171.68L122.42 170.23L122.91 168.81L123.40 167.41L123.90 166.02L124.39 164.66L124.88 163.33L125.37 162.01L125.86 160.73L126.36 159.47L126.85 158.24L127.34 157.05L127.83 155.88L128.32 154.75L128.82 153.66L129.31 152.60L129.80 151.58L130.29 150.60L130.78 149.66L131.28 148.76L131.77 147.91L132.26 147.10L132.75 146.33L133.24 145.61L133.74 144.94L134.23 144.32L134.72 143.75L135.21 143.22L135.70 142.75L136.20 142.33L136.69 141.96L137.18 141.64L137.67 141.38L138.16 141.17L138.66 141.02L139.15 140.91L139.64 140.87L140.13 140.88L140.62 140.95L141.12 141.08L141.61 141.27L142.10 141.53L142.59 141.84L143.08 142.22L143.58 142.65L144.07 143.15L144.56 143.70L145.05 144.31L145.54 144.97L146.04 145.69L146.53 146.46L147.02 147.29L147.51 148.17L148.00 149.10L148.50 150.07L148.99 151.10L149.48 152.17L149.97 153.28L150.46 154.43L150.96 155.63L151.45 156.86L151.94 158.14L152.43 159.44L152.92 160.78L153.42 162.16L153.91 163.56L154.40 164.99L154.89 166.45L155.38 167.93L155.88 169.44L156.37 170.96L156.86 172.51L157.35 174.07L157.84 175.65L158.34 177.24L158.83 178.85L159.32 180.46L159.81 182.09L160.30 183.72L160.80 185.36L161.29 187.00L161.78 188.65L162.27 190.30L162.76 191.95L163.26 193.60L163.75 195.25L164.24 196.89L164.73 198.53L165.22 200.16L165.72 201.79L166.21 203.41L166.70 205.02L167.19 206.62L167.68 208.21L168.18 209.79L168.67 211.36L169.16 212.91L169.65 214.45L170.14 215.98L170.64 217.49L171.13 218.99L171.62 220.47L172.11 221.94L172.60 223.39L173.10 224.82L173.59 226.23L174.08 227.63L174.57 229.01L175.06 230.37L175.56 231.71L176.05 233.03L176.54 234.34L177.03 235.62L177.52 236.89L178.02 238.13L178.51 239.36L179.00 240.57L179.49 241.76L179.98 242.93L180.48 244.07L180.97 245.20L181.46 246.31L181.95 247.41L182.44 248.48L182.94 249.53L183.43 250.56L183.92 251.58L184.41 252.57L184.90 253.55L185.40 254.51L185.89 255.45L186.38 256.37L186.87 257.28L187.36 258.16L187.86 259.03L188.35 259.88L188.84 260.72L189.33 261.53L189.82 262.33L190.32 263.12L190.81 263.88L191.30 264.64L191.79 265.37L192.28 266.09L192.78 266.79L193.27 267.48L193.76 268.15L194.25 268.81L194.74 269.46L195.24 270.09L195.73 270.70L196.22 271.30L196.71 271.89L197.20 272.46L197.70 273.02L198.19 273.57L198.68 274.10L199.17 274.63L199.66 275.14L200.16 275.63L200.65 276.12L201.14 276.59L201.63 277.05L202.12 277.50L202.62 277.94L203.11 278.36L203.60 278.78L204.09 279.19L204.58 279.58L205.08 279.96L205.57 280.34L206.06 280.70L206.55 281.05L207.04 281.40L207.54 281.73L208.03 282.06L208.52 282.37L209.01 282.68L209.50 282.98L210.00 283.27L210.49 283.54L210.98 283.82L211.47 284.08L211.96 284.33L212.46 284.58L212.95 284.82L213.44 285.05L213.93 285.27L214.42 285.48L214.92 285.69L215.41 285.89L215.90 286.08L216.39 286.26L216.88 286.44L217.38 286.61L217.87 286.77L218.36 286.93L218.85 287.07L219.34 287.22L219.84 287.35L220.33 287.48L220.82 287.60L221.31 287.71L221.80 287.82L222.30 287.92L222.79 288.02L223.28 288.11L223.77 288.19L224.26 288.27L224.76 288.34L225.25 288.40L225.74 288.46L226.23 288.51L226.72 288.56L227.22 288.60L227.71 288.63L228.20 288.66L228.69 288.68L229.18 288.70L229.68 288.71L230.17 288.71L230.66 288.71L231.15 288.70L231.64 288.69L232.14 288.67L232.63 288.64L233.12 288.61L233.61 288.58L234.10 288.53L234.60 288.48L235.09 288.43L235.58 288.37L236.07 288.30L236.56 288.23L237.06 288.15L237.55 288.07L238.04 287.98L238.53 287.88L239.02 287.78L239.52 287.67L240.01 287.56L240.50 287.44L240.99 287.31L241.48 287.18L241.98 287.04L242.47 286.90L242.96 286.74L243.45 286.59L243.94 286.42L244.44 286.25L244.93 286.07L245.42 285.89L245.91 285.70L246.40 285.50L246.90 285.30L247.39 285.08L247.88 284.87L248.37 284.64L248.86 284.41L249.36 284.17L249.85 283.92L250.34 283.67L250.83 283.40L251.32 283.13L251.82 282.86L252.31 282.57L252.80 282.28L253.29 281.98L253.78 281.67L254.28 281.35L254.77 281.02L255.26 280.69L255.75 280.35L256.24 280.00L256.74 279.64L257.23 279.27L257.72 278.89L258.21 278.50L258.70 278.10L259.20 277.70L259.69 277.28L260.18 276.86L260.67 276.42L261.16 275.98L261.66 275.52L262.15 275.06L262.64 274.58L263.13 274.10L263.62 273.60L264.12 273.09L264.61 272.58L265.10 272.05L265.59 271.51L266.08 270.96L266.58 270.39L267.07 269.82L267.56 269.23L268.05 268.64L268.54 268.03L269.04 267.40L269.53 266.77L270.02 266.12L270.51 265.46L271.00 264.79L271.50 264.11L271.99 263.41L272.48 262.70L272.97 261.98L273.46 261.24L273.96 260.49L274.45 259.73L274.94 258.95L275.43 258.16L275.92 257.36L276.42 256.54L276.91 255.71L277.40 254.87L277.89 254.01L278.38 253.14L278.88 252.25L279.37 251.35L279.86 250.44L280.35 249.51L280.84 248.57L281.34 247.61L281.83 246.65L282.32 245.66L282.81 244.67L283.30 243.66L283.80 242.64L284.29 241.60L284.78 240.56L285.27 239.50L285.76 238.43L286.26 237.34L286.75 236.25L287.24 235.14L287.73 234.02L288.22 232.89L288.72 231.75L289.21 230.60L289.70 229.44L290.19 228.27L290.68 227.09L291.18 225.91L291.67 224.72L292.16 223.52L292.65 222.31L293.14 221.10L293.64 219.88L294.13 218.66L294.62 217.44L295.11 216.21L295.60 214.98L296.10 213.75L296.59 212.52L297.08 211.30L297.57 210.07L298.06 208.84L298.56 207.62L299.05 206.41L299.54 205.20L300.03 204.00L300.52 202.80L301.02 201.62L301.51 200.44L302.00 199.28L302.49 198.13L302.98 196.99L303.48 195.87L303.97 194.77L304.46 193.68L304.95 192.61L305.44 191.57L305.94 190.54L306.43 189.54L306.92 188.56L307.41 187.61L307.90 186.69L308.40 185.79L308.89 184.92L309.38 184.09L309.87 183.28L310.36 182.51L310.86 181.77L311.35 181.06L311.84 180.40L312.33 179.77L312.82 179.17L313.32 178.62L313.81 178.11L314.30 177.63L314.79 177.20L315.28 176.81L315.78 176.46L316.27 176.16L316.76 175.90L317.25 175.68L317.74 175.51L318.24 175.38L318.73 175.30L319.22 175.26L319.71 175.27L320.20 175.32L320.70 175.43L321.19 175.58L321.68 175.78L322.17 176.03L322.66 176.32L323.16 176.66L323.65 177.05L324.14 177.48L324.63 177.96L325.12 178.48L325.62 179.04L326.11 179.65L326.60 180.29L327.09 180.98L327.58 181.70L328.08 182.46L328.57 183.26L329.06 184.09L329.55 184.96L330.04 185.86L330.54 186.79L331.03 187.75L331.52 188.74L332.01 189.76L332.50 190.80L333.00 191.87L333.49 192.96L333.98 194.07L334.47 195.20L334.96 196.35L335.46 197.51L335.95 198.70L336.44 199.89L336.93 201.10L337.42 202.32L337.92 203.56L338.41 204.80L338.90 206.05L339.39 207.30L339.88 208.56L340.38 209.83L340.87 211.10L341.36 212.37L341.85 213.64L342.34 214.91L342.84 216.18L343.33 217.45L343.82 218.72L344.31 219.98L344.80 221.23L345.30 222.49L345.79 223.73L346.28 224.97L346.77 226.20L347.26 227.43L347.76 228.64L348.25 229.85L348.74 231.04L349.23 232.22L349.72 233.40L350.22 234.56L350.71 235.71L351.20 236.85L351.69 237.98L352.18 239.09L352.68 240.19L353.17 241.28L353.66 242.35L354.15 243.41L354.64 244.45L355.14 245.49L355.63 246.50L356.12 247.51L356.61 248.49L357.10 249.47L357.60 250.43L358.09 251.37L358.58 252.30L359.07 253.22L359.56 254.12L360.06 255.00L360.55 255.87L361.04 256.73L361.53 257.57L362.02 258.40L362.52 259.21L363.01 260.01L363.50 260.80L363.99 261.57L364.48 262.32L364.98 263.06L365.47 263.79L365.96 264.51L366.45 265.21L366.94 265.90L367.44 266.57L367.93 267.23L368.42 267.88L368.91 268.52L369.40 269.14L369.90 269.75L370.39 270.35L370.88 270.93L371.37 271.51L371.86 272.07L372.36 272.62L372.85 273.16L373.34 273.69L373.83 274.20L374.32 274.71L374.82 275.20L375.31 275.68L375.80 276.16L376.29 276.62L376.78 277.07L377.28 277.51L377.77 277.94L378.26 278.37L378.75 278.78L379.24 279.18L379.74 279.57L380.23 279.96L380.72 280.33L381.21 280.70L381.70 281.05L382.20 281.40L382.69 281.74L383.18 282.07L383.67 282.39L384.16 282.71L384.66 283.02L385.15 283.31L385.64 283.60L386.13 283.89L386.62 284.16L387.12 284.43L387.61 284.69L388.10 284.94L388.59 285.19L389.08 285.43L389.58 285.66L390.07 285.88L390.56 286.10L391.05 286.31L391.54 286.52L392.04 286.72L392.53 286.91L393.02 287.09L393.51 287.27L394.00 287.44L394.50 287.61L394.99 287.77L395.48 287.92L395.97 288.07L396.46 288.22L396.96 288.35L397.45 288.48L397.94 288.61L398.43 288.73L398.92 288.84L399.42 288.95L399.91 289.05L400.40 289.15L400.89 289.24L401.38 289.33L401.88 289.41L402.37 289.49L402.86 289.56L403.35 289.62L403.84 289.68L404.34 289.74L404.83 289.79L405.32 289.83L405.81 289.87L406.30 289.91L406.80 289.94L407.29 289.96L407.78 289.98L408.27 290.00L408.76 290.01L409.26 290.01L409.75 290.01L410.24 290.00L410.73 289.99L411.22 289.98L411.72 289.96L412.21 289.93L412.70 289.90L413.19 289.86L413.68 289.82L414.18 289.78L414.67 289.73L415.16 289.67L415.65 289.61L416.14 289.54L416.64 289.47L417.13 289.39L417.62 289.31L418.11 289.22L418.60 289.13L419.10 289.03L419.59 288.93L420.08 288.82L420.57 288.71L421.06 288.59L421.56 288.46L422.05 288.33L422.54 288.19L423.03 288.05L423.52 287.90L424.02 287.75L424.51 287.59L425.00 287.42L425.49 287.25L425.98 287.07L426.48 286.89L426.97 286.70L427.46 286.50L427.95 286.30L428.44 286.09L428.94 285.87L429.43 285.65L429.92 285.42L430.41 285.18L430.90 284.94L431.40 284.69L431.89 284.43L432.38 284.17L432.87 283.90L433.36 283.62L433.86 283.33L434.35 283.04L434.84 282.74L435.33 282.43L435.82 282.11L436.32 281.78L436.81 281.45L437.30 281.11" stroke="#940008" stroke-width="2.00" stroke-dasharray="7.8 2.9 1.9 3"/>
</g>
<path d="M43.35 0.6H438.15M437.3 0V294.05" stroke="#000" stroke-width="1.7" fill="none"/>
<path d="M43.35 293.2H438.15" stroke="#000" stroke-width="1.7" fill="none"/>
<path d="M44.2 0V294.05" stroke="#262626" stroke-width="1.8" fill="none"/>
<path d="M142.10 293.00V286.70M240.50 293.00V286.70M338.90 293.00V286.70M92.90 293.00V289.60M191.30 293.00V289.60M289.70 293.00V289.60M388.10 293.00V289.60M44.00 209.30H50.70M44.00 125.80H50.70M44.00 42.30H50.70M44.00 251.05H47.60M44.00 167.55H47.60M44.00 84.05H47.60" stroke="#000" stroke-width="1.6" fill="none"/>
<text x="43.70" y="310.0" font-size="13.7" font-weight="bold" text-anchor="middle" textLength="23.3" lengthAdjust="spacingAndGlyphs">500</text>
<text x="142.10" y="310.0" font-size="13.7" font-weight="bold" text-anchor="middle" textLength="23.3" lengthAdjust="spacingAndGlyphs">550</text>
<text x="240.50" y="310.0" font-size="13.7" font-weight="bold" text-anchor="middle" textLength="23.3" lengthAdjust="spacingAndGlyphs">600</text>
<text x="338.90" y="310.0" font-size="13.7" font-weight="bold" text-anchor="middle" textLength="23.3" lengthAdjust="spacingAndGlyphs">650</text>
<text x="437.30" y="310.0" font-size="13.7" font-weight="bold" text-anchor="middle" textLength="23.3" lengthAdjust="spacingAndGlyphs">700</text>
<text x="37.8" y="296.90" font-size="13.8" font-weight="bold" text-anchor="end" textLength="19.2" lengthAdjust="spacingAndGlyphs">0.0</text>
<text x="37.8" y="213.40" font-size="13.8" font-weight="bold" text-anchor="end" textLength="19.2" lengthAdjust="spacingAndGlyphs">0.1</text>
<text x="37.8" y="129.90" font-size="13.8" font-weight="bold" text-anchor="end" textLength="19.2" lengthAdjust="spacingAndGlyphs">0.2</text>
<text x="37.8" y="46.40" font-size="13.8" font-weight="bold" text-anchor="end" textLength="19.2" lengthAdjust="spacingAndGlyphs">0.3</text>
<text class="r" x="240.4" y="327.4" font-size="12.8" text-anchor="middle" textLength="105" lengthAdjust="spacingAndGlyphs">Frequency (GHz)</text>
<text class="r" transform="translate(9.3,144.0) rotate(-90)" x="0" y="0" font-size="13" text-anchor="middle" textLength="76" lengthAdjust="spacingAndGlyphs">Absorptance</text>
<path d="M176.0 155.80H208.5" stroke="#000" stroke-width="2.00" fill="none" />
<text class="r" x="211.00" y="160.00" font-size="14.60" textLength="8.20" lengthAdjust="spacingAndGlyphs">E</text>
<text class="r" x="220.50" y="165.90" font-size="7.80" textLength="4.80" lengthAdjust="spacingAndGlyphs">F</text>
<text class="r" x="225.00" y="160.00" font-size="14.60" textLength="64.50" lengthAdjust="spacingAndGlyphs">=100 meV</text>
<path d="M176.0 177.30H208.5" stroke="#ff0000" stroke-width="2.00" fill="none" stroke-dasharray="7.4 5.1"/>
<text class="r" x="211.00" y="181.50" font-size="14.60" textLength="8.20" lengthAdjust="spacingAndGlyphs">E</text>
<text class="r" x="220.50" y="187.40" font-size="7.80" textLength="4.80" lengthAdjust="spacingAndGlyphs">F</text>
<text class="r" x="225.00" y="181.50" font-size="14.60" textLength="64.50" lengthAdjust="spacingAndGlyphs">=200 meV</text>
<path d="M177.4 199.00H208.5" stroke="#0000e6" stroke-width="2.20" fill="none" stroke-dasharray="0.01 7.5" stroke-linecap="square"/>
<text class="r" x="211.00" y="203.20" font-size="14.60" textLength="8.20" lengthAdjust="spacingAndGlyphs">E</text>
<text class="r" x="220.50" y="209.10" font-size="7.80" textLength="4.80" lengthAdjust="spacingAndGlyphs">F</text>
<text class="r" x="225.00" y="203.20" font-size="14.60" textLength="64.50" lengthAdjust="spacingAndGlyphs">=300 meV</text>
<path d="M176.0 220.60H208.5" stroke="#940008" stroke-width="2.00" fill="none" stroke-dasharray="7.8 2.9 1.9 3"/>
<text class="r" x="211.00" y="224.80" font-size="14.60" textLength="8.20" lengthAdjust="spacingAndGlyphs">E</text>
<text class="r" x="220.50" y="230.70" font-size="7.80" textLength="4.80" lengthAdjust="spacingAndGlyphs">F</text>
<text class="r" x="225.00" y="224.80" font-size="14.60" textLength="64.50" lengthAdjust="spacingAndGlyphs">=400 meV</text>
<text class="r4" x="329.6" y="168.4" font-size="15" textLength="99.5" lengthAdjust="spacingAndGlyphs">air-(G-Si)-air</text>
<rect x="78.90" y="11.50" width="155.40" height="109.80" fill="#fff" stroke="none"/>
<g clip-path="url(#ca)" fill="none">
<path d="M78.90 97.14L79.68 97.24L80.45 97.33L81.23 97.42L82.01 97.51L82.79 97.60L83.56 97.69L84.34 97.78L85.12 97.87L85.89 97.96L86.67 98.05L87.45 98.13L88.22 98.22L89.00 98.31L89.78 98.39L90.56 98.48L91.33 98.56L92.11 98.65L92.89 98.73L93.66 98.81L94.44 98.90L95.22 98.98L95.99 99.06L96.77 99.14L97.55 99.22L98.33 99.30L99.10 99.38L99.88 99.46L100.66 99.54L101.43 99.62L102.21 99.70L102.99 99.78L103.76 99.86L104.54 99.93L105.32 100.01L106.09 100.09L106.87 100.16L107.65 100.24L108.43 100.31L109.20 100.39L109.98 100.46L110.76 100.54L111.53 100.61L112.31 100.68L113.09 100.76L113.87 100.83L114.64 100.90L115.42 100.97L116.20 101.04L116.97 101.11L117.75 101.18L118.53 101.25L119.30 101.32L120.08 101.39L120.86 101.46L121.64 101.53L122.41 101.60L123.19 101.67L123.97 101.73L124.74 101.80L125.52 101.87L126.30 101.93L127.07 102.00L127.85 102.07L128.63 102.13L129.41 102.20L130.18 102.26L130.96 102.33L131.74 102.39L132.51 102.45L133.29 102.52L134.07 102.58L134.84 102.64L135.62 102.71L136.40 102.77L137.18 102.83L137.95 102.89L138.73 102.95L139.51 103.01L140.28 103.07L141.06 103.13L141.84 103.19L142.61 103.25L143.39 103.31L144.17 103.37L144.94 103.43L145.72 103.49L146.50 103.55L147.28 103.61L148.05 103.66L148.83 103.72L149.61 103.78L150.38 103.83L151.16 103.89L151.94 103.95L152.72 104.00L153.49 104.06L154.27 104.11L155.05 104.17L155.82 104.22L156.60 104.28L157.38 104.33L158.15 104.39L158.93 104.44L159.71 104.49L160.49 104.55L161.26 104.60L162.04 104.65L162.82 104.71L163.59 104.76L164.37 104.81L165.15 104.86L165.92 104.91L166.70 104.96L167.48 105.02L168.25 105.07L169.03 105.12L169.81 105.17L170.59 105.22L171.36 105.27L172.14 105.32L172.92 105.37L173.69 105.42L174.47 105.46L175.25 105.51L176.03 105.56L176.80 105.61L177.58 105.66L178.36 105.71L179.13 105.75L179.91 105.80L180.69 105.85L181.46 105.89L182.24 105.94L183.02 105.99L183.80 106.03L184.57 106.08L185.35 106.13L186.13 106.17L186.90 106.22L187.68 106.26L188.46 106.31L189.23 106.35L190.01 106.40L190.79 106.44L191.56 106.49L192.34 106.53L193.12 106.57L193.90 106.62L194.67 106.66L195.45 106.70L196.23 106.75L197.00 106.79L197.78 106.83L198.56 106.87L199.34 106.92L200.11 106.96L200.89 107.00L201.67 107.04L202.44 107.08L203.22 107.12L204.00 107.17L204.77 107.21L205.55 107.25L206.33 107.29L207.11 107.33L207.88 107.37L208.66 107.41L209.44 107.45L210.21 107.49L210.99 107.53L211.77 107.57L212.54 107.61L213.32 107.65L214.10 107.68L214.88 107.72L215.65 107.76L216.43 107.80L217.21 107.84L217.98 107.88L218.76 107.91L219.54 107.95L220.31 107.99L221.09 108.03L221.87 108.06L222.65 108.10L223.42 108.14L224.20 108.18L224.98 108.21L225.75 108.25L226.53 108.28L227.31 108.32L228.08 108.36L228.86 108.39L229.64 108.43L230.42 108.46L231.19 108.50L231.97 108.53L232.75 108.57L233.52 108.60L234.30 108.64" stroke="#000" stroke-width="1.40" />
<path d="M78.90 73.72L79.68 73.90L80.45 74.09L81.23 74.27L82.01 74.45L82.79 74.63L83.56 74.81L84.34 74.99L85.12 75.16L85.89 75.34L86.67 75.51L87.45 75.69L88.22 75.86L89.00 76.03L89.78 76.20L90.56 76.37L91.33 76.54L92.11 76.71L92.89 76.88L93.66 77.04L94.44 77.21L95.22 77.37L95.99 77.53L96.77 77.70L97.55 77.86L98.33 78.02L99.10 78.18L99.88 78.34L100.66 78.49L101.43 78.65L102.21 78.81L102.99 78.96L103.76 79.12L104.54 79.27L105.32 79.42L106.09 79.57L106.87 79.72L107.65 79.87L108.43 80.02L109.20 80.17L109.98 80.32L110.76 80.47L111.53 80.61L112.31 80.76L113.09 80.90L113.87 81.05L114.64 81.19L115.42 81.33L116.20 81.47L116.97 81.61L117.75 81.75L118.53 81.89L119.30 82.03L120.08 82.17L120.86 82.30L121.64 82.44L122.41 82.58L123.19 82.71L123.97 82.84L124.74 82.98L125.52 83.11L126.30 83.24L127.07 83.37L127.85 83.50L128.63 83.63L129.41 83.76L130.18 83.89L130.96 84.02L131.74 84.15L132.51 84.27L133.29 84.40L134.07 84.53L134.84 84.65L135.62 84.77L136.40 84.90L137.18 85.02L137.95 85.14L138.73 85.26L139.51 85.38L140.28 85.50L141.06 85.62L141.84 85.74L142.61 85.86L143.39 85.98L144.17 86.10L144.94 86.21L145.72 86.33L146.50 86.44L147.28 86.56L148.05 86.67L148.83 86.79L149.61 86.90L150.38 87.01L151.16 87.13L151.94 87.24L152.72 87.35L153.49 87.46L154.27 87.57L155.05 87.68L155.82 87.79L156.60 87.89L157.38 88.00L158.15 88.11L158.93 88.22L159.71 88.32L160.49 88.43L161.26 88.53L162.04 88.64L162.82 88.74L163.59 88.85L164.37 88.95L165.15 89.05L165.92 89.15L166.70 89.26L167.48 89.36L168.25 89.46L169.03 89.56L169.81 89.66L170.59 89.76L171.36 89.86L172.14 89.95L172.92 90.05L173.69 90.15L174.47 90.25L175.25 90.34L176.03 90.44L176.80 90.53L177.58 90.63L178.36 90.72L179.13 90.82L179.91 90.91L180.69 91.01L181.46 91.10L182.24 91.19L183.02 91.28L183.80 91.37L184.57 91.47L185.35 91.56L186.13 91.65L186.90 91.74L187.68 91.83L188.46 91.92L189.23 92.00L190.01 92.09L190.79 92.18L191.56 92.27L192.34 92.35L193.12 92.44L193.90 92.53L194.67 92.61L195.45 92.70L196.23 92.78L197.00 92.87L197.78 92.95L198.56 93.04L199.34 93.12L200.11 93.20L200.89 93.29L201.67 93.37L202.44 93.45L203.22 93.53L204.00 93.62L204.77 93.70L205.55 93.78L206.33 93.86L207.11 93.94L207.88 94.02L208.66 94.10L209.44 94.18L210.21 94.25L210.99 94.33L211.77 94.41L212.54 94.49L213.32 94.57L214.10 94.64L214.88 94.72L215.65 94.79L216.43 94.87L217.21 94.95L217.98 95.02L218.76 95.10L219.54 95.17L220.31 95.25L221.09 95.32L221.87 95.39L222.65 95.47L223.42 95.54L224.20 95.61L224.98 95.68L225.75 95.76L226.53 95.83L227.31 95.90L228.08 95.97L228.86 96.04L229.64 96.11L230.42 96.18L231.19 96.25L231.97 96.32L232.75 96.39L233.52 96.46L234.30 96.53" stroke="#ff0000" stroke-width="1.60" stroke-dasharray="4.7 2.5"/>
<path d="M78.90 52.86L79.68 53.11L80.45 53.36L81.23 53.60L82.01 53.85L82.79 54.09L83.56 54.34L84.34 54.58L85.12 54.82L85.89 55.06L86.67 55.29L87.45 55.53L88.22 55.76L89.00 56.00L89.78 56.23L90.56 56.46L91.33 56.69L92.11 56.92L92.89 57.15L93.66 57.37L94.44 57.60L95.22 57.82L95.99 58.04L96.77 58.27L97.55 58.49L98.33 58.70L99.10 58.92L99.88 59.14L100.66 59.35L101.43 59.57L102.21 59.78L102.99 59.99L103.76 60.20L104.54 60.41L105.32 60.62L106.09 60.83L106.87 61.03L107.65 61.24L108.43 61.44L109.20 61.65L109.98 61.85L110.76 62.05L111.53 62.25L112.31 62.45L113.09 62.65L113.87 62.84L114.64 63.04L115.42 63.23L116.20 63.43L116.97 63.62L117.75 63.81L118.53 64.00L119.30 64.19L120.08 64.38L120.86 64.57L121.64 64.76L122.41 64.94L123.19 65.13L123.97 65.31L124.74 65.49L125.52 65.68L126.30 65.86L127.07 66.04L127.85 66.22L128.63 66.40L129.41 66.57L130.18 66.75L130.96 66.93L131.74 67.10L132.51 67.28L133.29 67.45L134.07 67.62L134.84 67.79L135.62 67.96L136.40 68.13L137.18 68.30L137.95 68.47L138.73 68.64L139.51 68.81L140.28 68.97L141.06 69.14L141.84 69.30L142.61 69.46L143.39 69.63L144.17 69.79L144.94 69.95L145.72 70.11L146.50 70.27L147.28 70.43L148.05 70.59L148.83 70.74L149.61 70.90L150.38 71.06L151.16 71.21L151.94 71.36L152.72 71.52L153.49 71.67L154.27 71.82L155.05 71.97L155.82 72.12L156.60 72.27L157.38 72.42L158.15 72.57L158.93 72.72L159.71 72.87L160.49 73.01L161.26 73.16L162.04 73.30L162.82 73.45L163.59 73.59L164.37 73.74L165.15 73.88L165.92 74.02L166.70 74.16L167.48 74.30L168.25 74.44L169.03 74.58L169.81 74.72L170.59 74.86L171.36 74.99L172.14 75.13L172.92 75.27L173.69 75.40L174.47 75.54L175.25 75.67L176.03 75.80L176.80 75.94L177.58 76.07L178.36 76.20L179.13 76.33L179.91 76.46L180.69 76.59L181.46 76.72L182.24 76.85L183.02 76.98L183.80 77.11L184.57 77.23L185.35 77.36L186.13 77.49L186.90 77.61L187.68 77.74L188.46 77.86L189.23 77.98L190.01 78.11L190.79 78.23L191.56 78.35L192.34 78.47L193.12 78.59L193.90 78.72L194.67 78.84L195.45 78.95L196.23 79.07L197.00 79.19L197.78 79.31L198.56 79.43L199.34 79.54L200.11 79.66L200.89 79.78L201.67 79.89L202.44 80.01L203.22 80.12L204.00 80.24L204.77 80.35L205.55 80.46L206.33 80.57L207.11 80.69L207.88 80.80L208.66 80.91L209.44 81.02L210.21 81.13L210.99 81.24L211.77 81.35L212.54 81.46L213.32 81.57L214.10 81.67L214.88 81.78L215.65 81.89L216.43 81.99L217.21 82.10L217.98 82.21L218.76 82.31L219.54 82.42L220.31 82.52L221.09 82.62L221.87 82.73L222.65 82.83L223.42 82.93L224.20 83.03L224.98 83.14L225.75 83.24L226.53 83.34L227.31 83.44L228.08 83.54L228.86 83.64L229.64 83.74L230.42 83.84L231.19 83.94L231.97 84.03L232.75 84.13L233.52 84.23L234.30 84.32" stroke="#0000e6" stroke-width="1.50" stroke-dasharray="0.01 5" stroke-linecap="square"/>
<path d="M78.90 30.35L79.68 30.68L80.45 31.00L81.23 31.33L82.01 31.65L82.79 31.97L83.56 32.29L84.34 32.61L85.12 32.92L85.89 33.24L86.67 33.55L87.45 33.86L88.22 34.17L89.00 34.48L89.78 34.78L90.56 35.09L91.33 35.39L92.11 35.69L92.89 35.99L93.66 36.29L94.44 36.58L95.22 36.88L95.99 37.17L96.77 37.46L97.55 37.75L98.33 38.04L99.10 38.32L99.88 38.61L100.66 38.89L101.43 39.17L102.21 39.45L102.99 39.73L103.76 40.01L104.54 40.28L105.32 40.56L106.09 40.83L106.87 41.10L107.65 41.37L108.43 41.64L109.20 41.91L109.98 42.18L110.76 42.44L111.53 42.70L112.31 42.97L113.09 43.23L113.87 43.48L114.64 43.74L115.42 44.00L116.20 44.25L116.97 44.51L117.75 44.76L118.53 45.01L119.30 45.26L120.08 45.51L120.86 45.76L121.64 46.00L122.41 46.25L123.19 46.49L123.97 46.73L124.74 46.98L125.52 47.22L126.30 47.46L127.07 47.69L127.85 47.93L128.63 48.16L129.41 48.40L130.18 48.63L130.96 48.86L131.74 49.09L132.51 49.32L133.29 49.55L134.07 49.78L134.84 50.01L135.62 50.23L136.40 50.45L137.18 50.68L137.95 50.90L138.73 51.12L139.51 51.34L140.28 51.56L141.06 51.78L141.84 51.99L142.61 52.21L143.39 52.42L144.17 52.63L144.94 52.85L145.72 53.06L146.50 53.27L147.28 53.48L148.05 53.69L148.83 53.89L149.61 54.10L150.38 54.31L151.16 54.51L151.94 54.71L152.72 54.92L153.49 55.12L154.27 55.32L155.05 55.52L155.82 55.72L156.60 55.91L157.38 56.11L158.15 56.31L158.93 56.50L159.71 56.69L160.49 56.89L161.26 57.08L162.04 57.27L162.82 57.46L163.59 57.65L164.37 57.84L165.15 58.03L165.92 58.22L166.70 58.40L167.48 58.59L168.25 58.77L169.03 58.95L169.81 59.14L170.59 59.32L171.36 59.50L172.14 59.68L172.92 59.86L173.69 60.04L174.47 60.22L175.25 60.39L176.03 60.57L176.80 60.75L177.58 60.92L178.36 61.09L179.13 61.27L179.91 61.44L180.69 61.61L181.46 61.78L182.24 61.95L183.02 62.12L183.80 62.29L184.57 62.46L185.35 62.63L186.13 62.79L186.90 62.96L187.68 63.12L188.46 63.29L189.23 63.45L190.01 63.61L190.79 63.77L191.56 63.94L192.34 64.10L193.12 64.26L193.90 64.42L194.67 64.57L195.45 64.73L196.23 64.89L197.00 65.05L197.78 65.20L198.56 65.36L199.34 65.51L200.11 65.67L200.89 65.82L201.67 65.97L202.44 66.12L203.22 66.27L204.00 66.42L204.77 66.57L205.55 66.72L206.33 66.87L207.11 67.02L207.88 67.17L208.66 67.31L209.44 67.46L210.21 67.61L210.99 67.75L211.77 67.90L212.54 68.04L213.32 68.18L214.10 68.33L214.88 68.47L215.65 68.61L216.43 68.75L217.21 68.89L217.98 69.03L218.76 69.17L219.54 69.31L220.31 69.44L221.09 69.58L221.87 69.72L222.65 69.85L223.42 69.99L224.20 70.13L224.98 70.26L225.75 70.39L226.53 70.53L227.31 70.66L228.08 70.79L228.86 70.92L229.64 71.06L230.42 71.19L231.19 71.32L231.97 71.45L232.75 71.58L233.52 71.70L234.30 71.83" stroke="#940008" stroke-width="1.60" stroke-dasharray="5.3 1.7 1.2 1.7"/>
</g>
<rect x="78.90" y="11.50" width="155.40" height="109.80" fill="none" stroke="#000" stroke-width="1.45"/>
<path d="M156.60 121.30V118.30M117.75 121.30V119.30M195.45 121.30V119.30M78.90 66.40H81.90M78.90 93.85H80.90M78.90 38.95H80.90" stroke="#000" stroke-width="1.2" fill="none"/>
<text x="76" y="124.70" font-size="10" font-weight="bold" text-anchor="end" textLength="21.2" lengthAdjust="spacingAndGlyphs">0.00</text>
<text x="76" y="69.80" font-size="10" font-weight="bold" text-anchor="end" textLength="21.2" lengthAdjust="spacingAndGlyphs">0.03</text>
<text x="76" y="14.90" font-size="10" font-weight="bold" text-anchor="end" textLength="21.2" lengthAdjust="spacingAndGlyphs">0.06</text>
<text x="78.90" y="132.5" font-size="10" font-weight="bold" text-anchor="middle" textLength="17.8" lengthAdjust="spacingAndGlyphs">500</text>
<text x="156.60" y="132.5" font-size="10" font-weight="bold" text-anchor="middle" textLength="17.8" lengthAdjust="spacingAndGlyphs">600</text>
<text x="234.30" y="132.5" font-size="10" font-weight="bold" text-anchor="middle" textLength="17.8" lengthAdjust="spacingAndGlyphs">700</text>
<text class="r2" x="97.8" y="29.3" font-size="13" textLength="16.8" lengthAdjust="spacingAndGlyphs">(a)</text>
<text class="r3" x="172.8" y="39.9" font-size="11.2" textLength="46" lengthAdjust="spacingAndGlyphs">air-G-Si</text>
<rect x="261.00" y="10.70" width="155.30" height="110.30" fill="#fff" stroke="none"/>
<g clip-path="url(#cb)" fill="none">
<path d="M261.00 96.04L261.78 96.13L262.55 96.21L263.33 96.30L264.11 96.39L264.88 96.48L265.66 96.57L266.44 96.65L267.21 96.74L267.99 96.82L268.76 96.91L269.54 96.99L270.32 97.08L271.09 97.16L271.87 97.25L272.65 97.33L273.42 97.41L274.20 97.49L274.98 97.58L275.75 97.66L276.53 97.74L277.31 97.82L278.08 97.90L278.86 97.98L279.64 98.06L280.41 98.13L281.19 98.21L281.97 98.29L282.74 98.37L283.52 98.45L284.30 98.52L285.07 98.60L285.85 98.67L286.62 98.75L287.40 98.82L288.18 98.90L288.95 98.97L289.73 99.05L290.51 99.12L291.28 99.19L292.06 99.27L292.84 99.34L293.61 99.41L294.39 99.48L295.17 99.55L295.94 99.62L296.72 99.69L297.50 99.76L298.27 99.83L299.05 99.90L299.82 99.97L300.60 100.04L301.38 100.11L302.15 100.18L302.93 100.24L303.71 100.31L304.48 100.38L305.26 100.44L306.04 100.51L306.81 100.58L307.59 100.64L308.37 100.71L309.14 100.77L309.92 100.84L310.70 100.90L311.47 100.97L312.25 101.03L313.03 101.09L313.80 101.16L314.58 101.22L315.36 101.28L316.13 101.34L316.91 101.40L317.68 101.47L318.46 101.53L319.24 101.59L320.01 101.65L320.79 101.71L321.57 101.77L322.34 101.83L323.12 101.89L323.90 101.95L324.67 102.01L325.45 102.07L326.23 102.12L327.00 102.18L327.78 102.24L328.56 102.30L329.33 102.35L330.11 102.41L330.88 102.47L331.66 102.52L332.44 102.58L333.21 102.64L333.99 102.69L334.77 102.75L335.54 102.80L336.32 102.86L337.10 102.91L337.87 102.97L338.65 103.02L339.43 103.07L340.20 103.13L340.98 103.18L341.76 103.23L342.53 103.29L343.31 103.34L344.09 103.39L344.86 103.44L345.64 103.50L346.42 103.55L347.19 103.60L347.97 103.65L348.74 103.70L349.52 103.75L350.30 103.80L351.07 103.85L351.85 103.90L352.63 103.95L353.40 104.00L354.18 104.05L354.96 104.10L355.73 104.15L356.51 104.20L357.29 104.25L358.06 104.29L358.84 104.34L359.62 104.39L360.39 104.44L361.17 104.48L361.94 104.53L362.72 104.58L363.50 104.63L364.27 104.67L365.05 104.72L365.83 104.76L366.60 104.81L367.38 104.86L368.16 104.90L368.93 104.95L369.71 104.99L370.49 105.04L371.26 105.08L372.04 105.13L372.82 105.17L373.59 105.21L374.37 105.26L375.15 105.30L375.92 105.35L376.70 105.39L377.48 105.43L378.25 105.48L379.03 105.52L379.80 105.56L380.58 105.60L381.36 105.65L382.13 105.69L382.91 105.73L383.69 105.77L384.46 105.81L385.24 105.85L386.02 105.90L386.79 105.94L387.57 105.98L388.35 106.02L389.12 106.06L389.90 106.10L390.68 106.14L391.45 106.18L392.23 106.22L393.00 106.26L393.78 106.30L394.56 106.34L395.33 106.38L396.11 106.42L396.89 106.46L397.66 106.49L398.44 106.53L399.22 106.57L399.99 106.61L400.77 106.65L401.55 106.68L402.32 106.72L403.10 106.76L403.88 106.80L404.65 106.83L405.43 106.87L406.21 106.91L406.98 106.95L407.76 106.98L408.54 107.02L409.31 107.06L410.09 107.09L410.86 107.13L411.64 107.16L412.42 107.20L413.19 107.24L413.97 107.27L414.75 107.31L415.52 107.34L416.30 107.38" stroke="#000" stroke-width="1.40" />
<path d="M261.00 74.47L261.78 74.64L262.55 74.80L263.33 74.97L264.11 75.14L264.88 75.30L265.66 75.46L266.44 75.63L267.21 75.79L267.99 75.95L268.76 76.11L269.54 76.27L270.32 76.42L271.09 76.58L271.87 76.74L272.65 76.89L273.42 77.05L274.20 77.20L274.98 77.35L275.75 77.51L276.53 77.66L277.31 77.81L278.08 77.96L278.86 78.11L279.64 78.25L280.41 78.40L281.19 78.55L281.97 78.69L282.74 78.84L283.52 78.98L284.30 79.13L285.07 79.27L285.85 79.41L286.62 79.55L287.40 79.69L288.18 79.83L288.95 79.97L289.73 80.11L290.51 80.25L291.28 80.38L292.06 80.52L292.84 80.65L293.61 80.79L294.39 80.92L295.17 81.06L295.94 81.19L296.72 81.32L297.50 81.45L298.27 81.58L299.05 81.71L299.82 81.84L300.60 81.97L301.38 82.10L302.15 82.23L302.93 82.35L303.71 82.48L304.48 82.60L305.26 82.73L306.04 82.85L306.81 82.98L307.59 83.10L308.37 83.22L309.14 83.34L309.92 83.46L310.70 83.58L311.47 83.70L312.25 83.82L313.03 83.94L313.80 84.06L314.58 84.18L315.36 84.29L316.13 84.41L316.91 84.53L317.68 84.64L318.46 84.76L319.24 84.87L320.01 84.98L320.79 85.10L321.57 85.21L322.34 85.32L323.12 85.43L323.90 85.54L324.67 85.65L325.45 85.76L326.23 85.87L327.00 85.98L327.78 86.09L328.56 86.19L329.33 86.30L330.11 86.41L330.88 86.51L331.66 86.62L332.44 86.73L333.21 86.83L333.99 86.93L334.77 87.04L335.54 87.14L336.32 87.24L337.10 87.35L337.87 87.45L338.65 87.55L339.43 87.65L340.20 87.75L340.98 87.85L341.76 87.95L342.53 88.05L343.31 88.14L344.09 88.24L344.86 88.34L345.64 88.44L346.42 88.53L347.19 88.63L347.97 88.73L348.74 88.82L349.52 88.92L350.30 89.01L351.07 89.10L351.85 89.20L352.63 89.29L353.40 89.38L354.18 89.48L354.96 89.57L355.73 89.66L356.51 89.75L357.29 89.84L358.06 89.93L358.84 90.02L359.62 90.11L360.39 90.20L361.17 90.29L361.94 90.38L362.72 90.46L363.50 90.55L364.27 90.64L365.05 90.72L365.83 90.81L366.60 90.90L367.38 90.98L368.16 91.07L368.93 91.15L369.71 91.24L370.49 91.32L371.26 91.40L372.04 91.49L372.82 91.57L373.59 91.65L374.37 91.73L375.15 91.82L375.92 91.90L376.70 91.98L377.48 92.06L378.25 92.14L379.03 92.22L379.80 92.30L380.58 92.38L381.36 92.46L382.13 92.54L382.91 92.62L383.69 92.69L384.46 92.77L385.24 92.85L386.02 92.93L386.79 93.00L387.57 93.08L388.35 93.15L389.12 93.23L389.90 93.31L390.68 93.38L391.45 93.46L392.23 93.53L393.00 93.60L393.78 93.68L394.56 93.75L395.33 93.82L396.11 93.90L396.89 93.97L397.66 94.04L398.44 94.11L399.22 94.19L399.99 94.26L400.77 94.33L401.55 94.40L402.32 94.47L403.10 94.54L403.88 94.61L404.65 94.68L405.43 94.75L406.21 94.82L406.98 94.89L407.76 94.96L408.54 95.02L409.31 95.09L410.09 95.16L410.86 95.23L411.64 95.30L412.42 95.36L413.19 95.43L413.97 95.49L414.75 95.56L415.52 95.63L416.30 95.69" stroke="#ff0000" stroke-width="1.60" stroke-dasharray="4.7 2.5"/>
<path d="M261.00 56.02L261.78 56.24L262.55 56.45L263.33 56.66L264.11 56.87L264.88 57.07L265.66 57.28L266.44 57.49L267.21 57.69L267.99 57.90L268.76 58.10L269.54 58.30L270.32 58.50L271.09 58.70L271.87 58.90L272.65 59.10L273.42 59.29L274.20 59.49L274.98 59.68L275.75 59.88L276.53 60.07L277.31 60.26L278.08 60.45L278.86 60.64L279.64 60.83L280.41 61.02L281.19 61.21L281.97 61.39L282.74 61.58L283.52 61.76L284.30 61.94L285.07 62.13L285.85 62.31L286.62 62.49L287.40 62.67L288.18 62.85L288.95 63.02L289.73 63.20L290.51 63.38L291.28 63.55L292.06 63.73L292.84 63.90L293.61 64.07L294.39 64.25L295.17 64.42L295.94 64.59L296.72 64.76L297.50 64.92L298.27 65.09L299.05 65.26L299.82 65.43L300.60 65.59L301.38 65.75L302.15 65.92L302.93 66.08L303.71 66.24L304.48 66.41L305.26 66.57L306.04 66.73L306.81 66.88L307.59 67.04L308.37 67.20L309.14 67.36L309.92 67.51L310.70 67.67L311.47 67.82L312.25 67.98L313.03 68.13L313.80 68.28L314.58 68.44L315.36 68.59L316.13 68.74L316.91 68.89L317.68 69.04L318.46 69.18L319.24 69.33L320.01 69.48L320.79 69.63L321.57 69.77L322.34 69.92L323.12 70.06L323.90 70.20L324.67 70.35L325.45 70.49L326.23 70.63L327.00 70.77L327.78 70.91L328.56 71.05L329.33 71.19L330.11 71.33L330.88 71.47L331.66 71.61L332.44 71.74L333.21 71.88L333.99 72.01L334.77 72.15L335.54 72.28L336.32 72.42L337.10 72.55L337.87 72.68L338.65 72.82L339.43 72.95L340.20 73.08L340.98 73.21L341.76 73.34L342.53 73.47L343.31 73.60L344.09 73.72L344.86 73.85L345.64 73.98L346.42 74.10L347.19 74.23L347.97 74.36L348.74 74.48L349.52 74.60L350.30 74.73L351.07 74.85L351.85 74.97L352.63 75.10L353.40 75.22L354.18 75.34L354.96 75.46L355.73 75.58L356.51 75.70L357.29 75.82L358.06 75.94L358.84 76.05L359.62 76.17L360.39 76.29L361.17 76.40L361.94 76.52L362.72 76.64L363.50 76.75L364.27 76.87L365.05 76.98L365.83 77.09L366.60 77.21L367.38 77.32L368.16 77.43L368.93 77.54L369.71 77.66L370.49 77.77L371.26 77.88L372.04 77.99L372.82 78.10L373.59 78.20L374.37 78.31L375.15 78.42L375.92 78.53L376.70 78.64L377.48 78.74L378.25 78.85L379.03 78.96L379.80 79.06L380.58 79.17L381.36 79.27L382.13 79.38L382.91 79.48L383.69 79.58L384.46 79.69L385.24 79.79L386.02 79.89L386.79 79.99L387.57 80.09L388.35 80.19L389.12 80.30L389.90 80.40L390.68 80.50L391.45 80.59L392.23 80.69L393.00 80.79L393.78 80.89L394.56 80.99L395.33 81.09L396.11 81.18L396.89 81.28L397.66 81.38L398.44 81.47L399.22 81.57L399.99 81.66L400.77 81.76L401.55 81.85L402.32 81.95L403.10 82.04L403.88 82.13L404.65 82.23L405.43 82.32L406.21 82.41L406.98 82.50L407.76 82.59L408.54 82.69L409.31 82.78L410.09 82.87L410.86 82.96L411.64 83.05L412.42 83.14L413.19 83.23L413.97 83.31L414.75 83.40L415.52 83.49L416.30 83.58" stroke="#0000e6" stroke-width="1.50" stroke-dasharray="0.01 5" stroke-linecap="square"/>
<path d="M261.00 38.60L261.78 38.87L262.55 39.13L263.33 39.40L264.11 39.66L264.88 39.92L265.66 40.18L266.44 40.44L267.21 40.69L267.99 40.95L268.76 41.20L269.54 41.46L270.32 41.71L271.09 41.96L271.87 42.21L272.65 42.46L273.42 42.70L274.20 42.95L274.98 43.19L275.75 43.43L276.53 43.68L277.31 43.92L278.08 44.15L278.86 44.39L279.64 44.63L280.41 44.86L281.19 45.10L281.97 45.33L282.74 45.56L283.52 45.80L284.30 46.03L285.07 46.25L285.85 46.48L286.62 46.71L287.40 46.93L288.18 47.16L288.95 47.38L289.73 47.60L290.51 47.82L291.28 48.04L292.06 48.26L292.84 48.48L293.61 48.70L294.39 48.91L295.17 49.13L295.94 49.34L296.72 49.55L297.50 49.76L298.27 49.97L299.05 50.18L299.82 50.39L300.60 50.60L301.38 50.81L302.15 51.01L302.93 51.22L303.71 51.42L304.48 51.62L305.26 51.82L306.04 52.02L306.81 52.22L307.59 52.42L308.37 52.62L309.14 52.82L309.92 53.01L310.70 53.21L311.47 53.40L312.25 53.60L313.03 53.79L313.80 53.98L314.58 54.17L315.36 54.36L316.13 54.55L316.91 54.74L317.68 54.93L318.46 55.11L319.24 55.30L320.01 55.48L320.79 55.67L321.57 55.85L322.34 56.03L323.12 56.21L323.90 56.39L324.67 56.57L325.45 56.75L326.23 56.93L327.00 57.11L327.78 57.28L328.56 57.46L329.33 57.63L330.11 57.81L330.88 57.98L331.66 58.15L332.44 58.33L333.21 58.50L333.99 58.67L334.77 58.84L335.54 59.01L336.32 59.17L337.10 59.34L337.87 59.51L338.65 59.67L339.43 59.84L340.20 60.00L340.98 60.17L341.76 60.33L342.53 60.49L343.31 60.66L344.09 60.82L344.86 60.98L345.64 61.14L346.42 61.30L347.19 61.45L347.97 61.61L348.74 61.77L349.52 61.92L350.30 62.08L351.07 62.23L351.85 62.39L352.63 62.54L353.40 62.70L354.18 62.85L354.96 63.00L355.73 63.15L356.51 63.30L357.29 63.45L358.06 63.60L358.84 63.75L359.62 63.90L360.39 64.04L361.17 64.19L361.94 64.34L362.72 64.48L363.50 64.63L364.27 64.77L365.05 64.91L365.83 65.06L366.60 65.20L367.38 65.34L368.16 65.48L368.93 65.62L369.71 65.76L370.49 65.90L371.26 66.04L372.04 66.18L372.82 66.32L373.59 66.45L374.37 66.59L375.15 66.73L375.92 66.86L376.70 67.00L377.48 67.13L378.25 67.27L379.03 67.40L379.80 67.53L380.58 67.67L381.36 67.80L382.13 67.93L382.91 68.06L383.69 68.19L384.46 68.32L385.24 68.45L386.02 68.58L386.79 68.71L387.57 68.83L388.35 68.96L389.12 69.09L389.90 69.21L390.68 69.34L391.45 69.46L392.23 69.59L393.00 69.71L393.78 69.84L394.56 69.96L395.33 70.08L396.11 70.21L396.89 70.33L397.66 70.45L398.44 70.57L399.22 70.69L399.99 70.81L400.77 70.93L401.55 71.05L402.32 71.17L403.10 71.29L403.88 71.40L404.65 71.52L405.43 71.64L406.21 71.75L406.98 71.87L407.76 71.99L408.54 72.10L409.31 72.21L410.09 72.33L410.86 72.44L411.64 72.56L412.42 72.67L413.19 72.78L413.97 72.89L414.75 73.00L415.52 73.12L416.30 73.23" stroke="#940008" stroke-width="1.60" stroke-dasharray="5.3 1.7 1.2 1.7"/>
</g>
<rect x="261.00" y="10.70" width="155.30" height="110.30" fill="none" stroke="#000" stroke-width="1.45"/>
<path d="M338.65 121.00V118.00M299.82 121.00V119.00M377.48 121.00V119.00M261.00 81.50H264.00M261.00 42.00H264.00M261.00 101.25H263.00M261.00 61.75H263.00M261.00 22.25H263.00" stroke="#000" stroke-width="1.2" fill="none"/>
<text x="258.3" y="124.40" font-size="10" font-weight="bold" text-anchor="end" textLength="14.5" lengthAdjust="spacingAndGlyphs">0.0</text>
<text x="258.3" y="84.90" font-size="10" font-weight="bold" text-anchor="end" textLength="14.5" lengthAdjust="spacingAndGlyphs">0.1</text>
<text x="258.3" y="45.40" font-size="10" font-weight="bold" text-anchor="end" textLength="14.5" lengthAdjust="spacingAndGlyphs">0.2</text>
<text x="261.00" y="131.9" font-size="10" font-weight="bold" text-anchor="middle" textLength="18" lengthAdjust="spacingAndGlyphs">500</text>
<text x="338.65" y="131.9" font-size="10" font-weight="bold" text-anchor="middle" textLength="18" lengthAdjust="spacingAndGlyphs">600</text>
<text x="416.30" y="131.9" font-size="10" font-weight="bold" text-anchor="middle" textLength="18" lengthAdjust="spacingAndGlyphs">700</text>
<text class="r5" x="279.5" y="28.9" font-size="13" textLength="17" lengthAdjust="spacingAndGlyphs">(b)</text>
<text class="r3" x="351.0" y="39.3" font-size="11.4" textLength="49.2" lengthAdjust="spacingAndGlyphs">air-G-air</text>
</svg></body></html>
